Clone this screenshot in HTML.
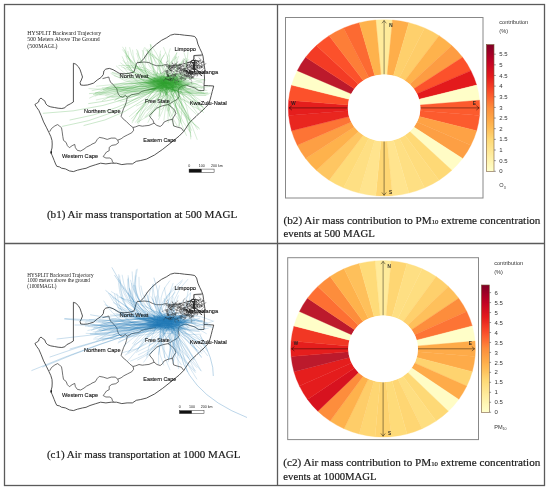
<!DOCTYPE html>
<html><head><meta charset="utf-8"><title>Air mass trajectories</title><style>
html,body{margin:0;padding:0;background:#fff;}
body{width:550px;height:491px;overflow:hidden;}
svg{display:block;}
text{font-family:"Liberation Sans",sans-serif;}
.cap,.cap2,.tt{font-family:"Liberation Serif",serif;fill:#1a1a1a;}
.cap{font-size:11.2px;stroke:#1a1a1a;stroke-width:0.18px;}
.cap2{font-size:10.4px;stroke:#1a1a1a;stroke-width:0.18px;}
.tt{fill:#1a1a1a;}
.pl{font-size:6px;fill:#111;stroke:#111;stroke-width:0.12px;}
.sb{font-size:3.6px;fill:#222;}
.dl{font-size:4.6px;fill:#222;stroke:#222;stroke-width:0.15px;}
.ct{font-size:6px;fill:#333;}
.cl{font-size:5.6px;fill:#333;}
</style></head><body><svg width="550" height="491" viewBox="0 0 550 491"><rect width="550" height="491" fill="#fff"/>
<defs><radialGradient id="coreg"><stop offset="0" stop-color="#2ca02c" stop-opacity="0.7"/><stop offset="0.6" stop-color="#2ca02c" stop-opacity="0.45"/><stop offset="1" stop-color="#2ca02c" stop-opacity="0"/></radialGradient><radialGradient id="coreb"><stop offset="0" stop-color="#1f77b4" stop-opacity="0.7"/><stop offset="0.6" stop-color="#1f77b4" stop-opacity="0.45"/><stop offset="1" stop-color="#1f77b4" stop-opacity="0"/></radialGradient></defs>
<rect x="4.5" y="4.5" width="540" height="481" stroke="#5a5a5a" stroke-width="1.3" fill="none"/>
<path d="M277.5 4.5V485.5M4.5 243.5H544.5" stroke="#5a5a5a" stroke-width="1.3" fill="none"/>
<g transform="translate(0 0)">
<path d="M73.4 63.3 75.8 64.2 78.3 66.6 80.1 69.7 81.3 73.3 82.5 77 81.3 80 80.1 82.5 80.7 85 83.8 85.3 87.4 85 89.9 84.3 93.6 83.1 97.2 80 100.9 77.6 103.3 74.6 103.9 70.9 105.8 69.1 109.4 68.4 113.1 69.7 116.2 71.5 119.2 73.3 124 73.8 129 73.3 133.9 72.1 135.1 68.4 136.3 64.2 137.5 62.3 140 62.5 143.8 58.7 147.6 53 151.5 48.5 156.5 44.1 161.6 40.3 166.7 37.7 170.5 35.2 174.4 34.2 179.5 34.5 184.5 35.2 190.9 35.8 194.7 36.5 196.6 39 197.9 44.1 199.8 48.5 201.7 52.4 203 56.2 203.6 60.6 204.3 65.7 204.9 69.5 204.3 74.6 204.5 78 204 85.5 208.6 85.7 213.7 86 213.2 88 212.2 91.6 211.2 95.6 210.1 99.7 209.1 102.8 207.6 105.3 205.5 107.4 203 110 200 112.5 196 116.5 192.6 119.5 189.3 123 185.9 128.2 183.7 131.5 179 136.2 171 142.7 162.7 149.3 154.5 155 146.4 159.1 140.3 160.6 136.3 161.3 132.4 163.9 127.1 163.9 121.8 164.6 116.5 163.2 111.2 163.2 105.9 163.9 100.6 163.2 95.3 164.8 90 166.5 86 168.3 82.7 168.9 77.4 170.2 73.4 171.6 69.4 170.9 65.4 168.9 61.5 168.2 59.5 166.9 56.8 166.3 55.6 164 54.2 160.5 52.2 155.5 51 153 51.2 151 52 148 52.2 144 52 140.5 50.8 136.5 48.9 132.5 46.3 127.2 43.6 121.9 41 115.3 38.8 110.3 36.7 107.5 34.9 104.5 36.7 103.3 38.6 102 39.2 99.6 41 98 42.8 99.6 44.7 100.8 45.9 103.9 47.7 105.7 50.8 106.9 54.4 107.5 58.1 108.2 61.8 108.5 64.8 107.8 66.7 105.7 70.3 103.9 73.4 102Z" fill="none" stroke="#2a2a2a" stroke-width="0.8" stroke-linejoin="round"/>
<path d="M102.5 78.6 106.4 77.6 108.8 77 109.4 79.4 110.7 82.5 113.1 84.3 114.9 86.8 116.8 88.6 117.4 91.7 118.6 94.7 120.4 96.5 122.9 97.2 125.3 95.3 127.2 97.2 129 96.5 131.4 94.7 135.1 94.1 138.8 93.5 141.2 91.7 145 90.4 150 89.5 156 88.5" fill="none" stroke="#333" stroke-width="0.7" stroke-linejoin="round"/>
<path d="M127.2 97.2 126.5 101.4 125.3 105.1 123.5 108.8 122.3 112.4 121.1 116.3 123.1 118.9 126.4 121.5 129.7 124.9 133 127.5" fill="none" stroke="#333" stroke-width="0.7" stroke-linejoin="round"/>
<path d="M133 127.5 135.7 126.8 139 125.5 142.3 126.2 144.5 125.9 149 125.4 152.9 123.7 154 123.1" fill="none" stroke="#333" stroke-width="0.7" stroke-linejoin="round"/>
<path d="M133 127.5 133.7 130.2 131.7 132.8 127.7 134.8 123.8 136.8 121.1 138.8 117.8 140.1 115.2 138.1 111.2 138.1 107.2 139.4 103.2 138.1 99.3 137.4 97.3 139.4 95.3 142.7 92 144.1 90.6 145.1 86.6 147.1 84 149.1 80.7 151 77.4 150.4 75.4 147.7 74.7 144.4 72.1 145.7 69.4 147.7 67.4 145.7 66.1 142.4 63.5 140.4 62.8 136.5 62.1 131.2 61.5 127.9 59.5 125.9 57.5 124.6 54.9 125.9 51.5 128.5 49.6 131.8" fill="none" stroke="#333" stroke-width="0.7" stroke-linejoin="round"/>
<path d="M117.8 140.1 118.5 142.7 115.8 144.7 111.8 145.4 109.2 147.4 109.2 150.7 106.5 152 104.6 154.6 103.2 156.6 105.9 158 109.9 158 111.8 159.3 112.5 161.9 113.8 163.2" fill="none" stroke="#333" stroke-width="0.7" stroke-linejoin="round"/>
<path d="M149.5 115.8 153.4 111.4 156.8 108 162.4 105.8 168 104.6 171.4 106.9 174.7 110.2 175.8 113.6 173.6 117 172.5 119.2 168 120.3 164.1 122 162.4 124.8 160.2 126.5 156.8 125.4 154 123.1 152.9 120.3 150.1 117 149.5 115.8" fill="none" stroke="#333" stroke-width="0.7" stroke-linejoin="round"/>
<path d="M168 104.6 170.2 103.5 173.6 101.3 177 99.6 179.2 96.8 178.6 93.4 178.1 91.2 179 88 182 86 186 85 190 86.5 195 88 198.4 90.5 204 90.5 204 85.5" fill="none" stroke="#333" stroke-width="0.7" stroke-linejoin="round"/>
<path d="M172.5 119.2 173 122.6 173.6 125.9 177 127 181.4 128.2 183.7 131.5" fill="none" stroke="#333" stroke-width="0.7" stroke-linejoin="round"/>
<path d="M140 62.5 144 62 148.9 62.5 152.7 64.5 156.5 65.7 161.6 65.7 165.5 64.5 170.5 65.7 175.6 65.7 180.7 64.5 185.8 63.2 190.9 61.9 194 59 194.1 55.5 198 55.2 202.4 54.9" fill="none" stroke="#333" stroke-width="0.7" stroke-linejoin="round"/>
</g>
<g fill="none" stroke="#2ca02c" stroke-opacity="0.45" stroke-width="0.4" stroke-linecap="round"><path d="M177.02 87.64Q145.5 88.47 113.97 89.1"/><path d="M158.34 84.45Q136.82 92.55 114.82 85.88"/><path d="M171.83 80.08Q142.95 83.2 113.92 84.04"/><path d="M167.1 80.73Q147.22 99.32 120.14 102.03"/><path d="M176.63 83.64Q149.1 93.41 119.93 91.62"/><path d="M166.5 83.37Q131.03 88.17 95.54 92.76"/><path d="M168.54 85.31Q132.59 94.78 95.44 93.19"/><path d="M181.22 83.82Q145.54 98.74 106.92 96.85"/><path d="M181.86 82.7Q136.35 79.52 92.11 90.65"/><path d="M164.03 75.71Q131.67 84.37 102.35 100.6"/><path d="M164.93 87.02Q141.44 93.88 118 100.92"/><path d="M166.43 82.55Q131.88 93.41 96.25 99.95"/><path d="M172.11 86.57Q142.5 94.75 111.9 97.49"/><path d="M160.26 84.43Q137.75 91.18 114.47 94.42"/><path d="M166.29 83.05Q125.27 77.2 89.48 98.07"/><path d="M162.16 81.23Q125.75 75.77 93.79 94.04"/><path d="M169.12 79.05Q143.14 83.59 117.25 88.64"/><path d="M176.79 81.76Q140.07 84.31 103.61 89.39"/><path d="M168.72 82.91Q139.25 84.14 114.64 100.41"/><path d="M167.24 77.19Q136.92 87.85 105.64 95.23"/><path d="M181.27 85.23Q144.32 86.49 107.38 88"/><path d="M161.45 83.28Q130.1 86.28 99.77 94.77"/><path d="M162.11 80.7Q126.45 93.15 88.95 88.59"/><path d="M156.01 79.78Q133.28 85.21 115.15 99.94"/><path d="M167.55 89.14Q138.61 97.26 110.89 85.66"/><path d="M179.7 83.49Q137.97 81.1 96.49 86.19"/><path d="M166.51 84.01Q131.23 98.01 93.43 94.55"/><path d="M166.42 87.99Q134.96 89.81 103.46 90.44"/><path d="M174.84 83.47Q139.18 95.83 102.31 87.76"/><path d="M174.76 80.75Q133.18 79.34 95.11 96.11"/><path d="M169.32 83.08Q138.02 91.13 110.93 73.5"/><path d="M165.03 78.38Q144.38 63.29 118.89 65.53"/><path d="M170.5 79.31Q140.77 81.8 112.46 72.38"/><path d="M162.52 81.71Q138.74 78.64 120.62 62.94"/><path d="M182 81.69Q147.2 88.54 114.13 75.74"/><path d="M178.72 81.03Q143.09 91.99 116.32 66.04"/><path d="M169.41 82.39Q146.82 80.56 124.39 77.4"/><path d="M174.67 88.67Q150.37 83.12 127.48 73.26"/><path d="M163.35 85.05Q136.71 83.2 112.12 72.79"/><path d="M169.13 84.41Q144.34 77.97 121.32 66.74"/><path d="M161.53 88.77Q138.48 82.62 125.99 62.29"/><path d="M158.31 91.33Q136.36 86.08 123.65 67.43"/><path d="M161.9 77.57Q145.69 67.56 126.64 67.5"/><path d="M164.9 79.6Q147.17 70.34 127.71 65.75"/><path d="M171.68 83.99Q144.3 76.68 136.58 49.41"/><path d="M157.15 79.39Q130 78.52 127.89 51.44"/><path d="M174.41 79.78Q146 88.65 137.27 60.2"/><path d="M164.88 82.53Q135.03 75.28 122.63 47.17"/><path d="M171.12 77.16Q143.4 78.57 127.45 55.84"/><path d="M161.44 85.89Q125.89 82.97 125.58 47.31"/><path d="M174.98 80.39Q143.63 84.15 136.8 53.32"/><path d="M171.03 77.16Q136.03 92.23 122.2 56.73"/><path d="M178.92 87.41Q143.11 80.11 122.64 49.83"/><path d="M164.95 83.76Q135 78.47 124.68 49.86"/><path d="M180.29 87.24Q148.21 86.49 128.05 61.52"/><path d="M166.54 85.35Q135.94 78.35 129.63 47.6"/><path d="M168.99 83.11Q142.3 77.59 137.72 50.73"/><path d="M162.23 83.86Q137.72 80.5 123.01 60.61"/><path d="M171.34 82.71Q142.84 78.8 125.44 55.88"/><path d="M157.7 81.7Q133.77 74.97 132.59 50.15"/><path d="M166.14 85.25Q160.73 63.34 144.77 47.37"/><path d="M158.37 84.49Q153.93 68.54 163.88 55.29"/><path d="M165.82 85.67Q165.62 67.3 152.77 54.17"/><path d="M165.94 85.73Q155.13 69.6 160.5 50.95"/><path d="M168.04 83.65Q153.67 66.77 150.29 44.87"/><path d="M170.5 83.55Q171.91 64.59 163.6 47.49"/><path d="M154.06 83.27Q155.2 65.71 147.24 50.02"/><path d="M183.12 86.64Q170.18 65.04 147.89 53.31"/><path d="M170.67 80.47Q164.74 59.87 145.63 50.17"/><path d="M164 89.52Q138.82 80.46 146.82 54.93"/><path d="M161.9 89.33Q171.35 73.34 169.33 54.89"/><path d="M167.74 78.11Q146.41 71.47 148.06 49.19"/><path d="M165.72 78.36Q162.39 59.66 150.59 44.77"/><path d="M171.16 79.23Q160.65 68.93 160.41 54.22"/><path d="M162.95 84.77Q148.77 66.97 150.77 44.29"/><path d="M160.12 85.08Q137.02 73.23 144.12 48.26"/><path d="M171.83 84.75Q162.4 67.16 170.18 48.77"/><path d="M164.12 81.48Q147.75 69.73 142.25 50.34"/><path d="M163.54 80.23Q154.96 65.88 165.34 52.78"/><path d="M160.01 83.11Q150.19 67.44 149.65 48.95"/><path d="M181.05 79.05Q172.58 68.59 178.4 56.46"/><path d="M175.55 84.67Q187.95 70.46 188.04 51.59"/><path d="M172.49 81.14Q174.03 67.17 185.08 58.49"/><path d="M164.56 78.02Q179.44 73.55 183.51 58.56"/><path d="M176.82 81.97Q171 67.24 176.82 52.51"/><path d="M157.32 80.72Q169.71 71.43 174.83 56.82"/><path d="M163.14 86.14Q160.61 67.38 176.64 57.3"/><path d="M180.63 82.32Q190.91 68.49 184.06 52.68"/><path d="M171.71 82.56Q184.66 73.9 186.41 58.42"/><path d="M165.67 79.69Q173.19 65.03 188.79 59.71"/><path d="M170.42 79.78Q166.59 64.89 176.64 53.25"/><path d="M182.9 78.61Q175.24 68.6 175.91 56.01"/><path d="M172.32 84.81Q189.03 79.72 201.48 91.99"/><path d="M170.78 86.2Q183.83 93.16 198.29 90.04"/><path d="M170.43 81.13Q187.24 80.61 201.99 88.68"/><path d="M163.43 81.75Q183.48 95.38 207.57 92.66"/><path d="M176.67 82.34Q188.94 92.57 204.87 93.69"/><path d="M161.78 81.65Q181.87 89.11 201.98 81.73"/><path d="M176.56 86.59Q189.71 95.57 205.63 95.44"/><path d="M171.74 82.71Q189.88 78.18 205.01 89.16"/><path d="M161.42 82.94Q182.96 74.68 205.4 80.01"/><path d="M162.33 83.85Q180.96 97.68 203.59 92.53"/><path d="M157.9 83.22Q180.6 69.73 203.29 83.26"/><path d="M166.37 87.26Q187.59 95.83 210.34 93.27"/><path d="M175.76 82.71Q192.16 89.61 209.68 86.54"/><path d="M173.96 82.79Q186.18 90.02 200.38 89.92"/><path d="M167.63 83.21Q186.18 78.68 203.45 86.81"/><path d="M173.97 79.75Q188.94 92.18 208.27 94.37"/><path d="M156.43 83.24Q180.28 96.81 206.96 90.38"/><path d="M159.78 85.49Q181.71 98.22 206.87 94.99"/><path d="M174.8 78.5Q191.82 91.89 204.15 109.69"/><path d="M166.99 88Q189.47 91.79 204.74 108.71"/><path d="M172.01 79.81Q186.23 90.41 200.67 100.73"/><path d="M167.76 79.65Q191.07 87.44 199.55 110.51"/><path d="M151.1 82.65Q174.76 99.43 202.9 106.43"/><path d="M164.21 81.66Q184.9 94.01 198.08 114.18"/><path d="M179.76 85.73Q190.38 95.94 201.23 105.89"/><path d="M167.65 81.06Q180.31 101.73 202.53 111.41"/><path d="M166.81 87.36Q186.11 93 198.32 108.98"/><path d="M171.48 76.78Q179.18 96.62 199.3 103.56"/><path d="M164.37 77.06Q178.05 97.68 196.31 114.39"/><path d="M164.98 86.11Q188.4 93.35 203.62 112.57"/><path d="M165.04 81.63Q176.45 109.65 199.62 129.09"/><path d="M166.7 78.67Q183.87 102.43 189.67 131.16"/><path d="M175.18 86.87Q187 110.59 191.06 136.78"/><path d="M165.79 78.01Q179.35 98.58 190.28 120.66"/><path d="M164.79 83.07Q175.64 101.92 188.61 119.38"/><path d="M171.75 81.56Q174.01 109.97 186.49 135.6"/><path d="M177.4 82.01Q190.62 108.95 190.79 138.95"/><path d="M166.9 81.66Q181.03 105.11 191.6 130.38"/><path d="M170.49 85.03Q182.92 107.94 197.48 129.56"/><path d="M170.63 87.93Q175.11 112.84 190.62 132.84"/><path d="M170.15 82.97Q186.71 109.74 197.16 139.44"/><path d="M161.15 85.83Q175.2 111.21 198.86 128"/><path d="M168.22 81.16Q178.89 92.67 179.93 108.33"/><path d="M166.78 82.06Q167.48 96.45 167.11 110.86"/><path d="M176.16 77.12Q162.02 90.28 158.85 109.34"/><path d="M173.4 83.68Q173.32 99.81 160.82 110"/><path d="M160.49 78.98Q163.6 103.93 174.48 126.6"/><path d="M160.4 85.89Q175.49 101.32 181.27 122.12"/><path d="M183.22 85.76Q176.12 100.15 172.17 115.69"/><path d="M160.1 81.56Q161.27 98.69 159.46 115.77"/><path d="M172.51 89.26Q166.79 105.45 168.18 122.57"/><path d="M167.53 77.89Q163.3 97.74 176.05 113.53"/><path d="M177.14 88.83Q186.3 107.48 178.51 126.75"/><path d="M178.77 86.18Q166.75 98.86 169.26 116.15"/><path d="M176.35 83.98Q173.9 97.81 168.64 110.82"/><path d="M164.19 76.61Q170.18 99.22 158.59 119.54"/><path d="M168.92 81.71Q159.83 97.91 158.82 116.45"/><path d="M166.57 84.56Q164.49 107.02 177.07 125.75"/><path d="M165.56 86.18Q167.62 103.36 163.89 120.26"/><path d="M161.52 87.75Q177.78 100.46 180.95 120.85"/><path d="M163.61 80.14Q165.35 105.01 181.71 123.83"/><path d="M165.39 79.22Q177.37 101.28 179.52 126.3"/><path d="M171.71 85.57Q155.73 98.47 136.59 105.95"/><path d="M166.14 82.57Q158.69 101.78 144.82 117.02"/><path d="M166.05 85.85Q148.56 102.39 131.11 118.97"/><path d="M164.08 82.7Q158.24 98.03 147.6 110.51"/><path d="M185.71 86.74Q152.98 93.75 135.43 122.26"/><path d="M180.64 81.89Q158.17 97.24 147.91 122.45"/><path d="M173.66 85.92Q150.5 99.84 138.12 123.85"/><path d="M164.62 77.93Q145.15 98.06 132.12 122.85"/><path d="M161.6 85.06Q160.43 101.87 149.43 114.64"/><path d="M174.36 86.92Q161.61 110.3 137.76 122.14"/><path d="M158.42 85.74Q140.45 95.06 123.4 105.98"/><path d="M167.67 84.51Q148.08 100.07 129.33 116.64"/><path d="M170.4 83.59Q163.54 104.24 145.82 116.86"/><path d="M168.95 82.49Q146.58 97.87 132.31 120.95"/><path d="M164.9 89.59Q145.59 100.31 138.75 121.31"/><path d="M158.63 85.17Q142.31 100.84 137.25 122.89"/><path d="M166.06 77.2Q162.77 95.57 149.95 109.13"/><path d="M167.76 77.51Q153.82 97.14 136.4 113.74"/><path d="M177.25 79.16Q178.2 75.73 176.06 72.88"/><path d="M163.61 83.54Q164.26 85.8 162.37 87.21"/><path d="M172.33 84.86Q180.28 92.66 190.59 88.43"/><path d="M159.21 81.89Q166.59 85 174.47 83.56"/><path d="M175.24 75.8Q172.77 81.86 167.6 85.86"/><path d="M165.34 86.6Q171.57 88.96 176.14 84.1"/><path d="M173.18 86.89Q184.24 91.29 195.74 88.19"/><path d="M163.19 85.39Q176.57 95.65 192.95 91.7"/><path d="M180.82 78.67Q184.98 78.42 188.62 80.44"/><path d="M169.92 80.04Q177.54 78.02 183.97 82.59"/><path d="M164.65 83.43Q164.06 82.16 165.02 81.13"/><path d="M170.56 85.19Q179.83 82.31 189.18 84.97"/><path d="M173.41 82.96Q172.32 85.52 172.66 88.27"/><path d="M156.92 85.25Q164.43 84.68 171.32 87.74"/><path d="M178.93 82.1Q168.03 69.8 152.39 74.85"/><path d="M168.21 83.73Q164.55 80.59 160.15 82.56"/><path d="M158.96 86.04Q175.9 85.77 188.05 73.96"/><path d="M176.84 82.89Q176.27 80.27 173.66 79.63"/><path d="M171.21 82.72Q173.05 82.37 174.54 81.23"/><path d="M172.04 84.7Q167.15 81.44 161.38 82.55"/><path d="M175.71 78.62Q177.17 75.33 180.49 73.92"/><path d="M165.14 80.67Q171.78 84.35 172.38 91.91"/><path d="M170.01 81.8Q170.4 87.58 166.55 91.92"/><path d="M160.79 82.57Q177.37 83.78 190.62 93.83"/><path d="M153.15 83.32Q164.85 83.84 174.15 76.72"/><path d="M163.8 86.15Q154.35 86.41 148.41 93.76"/><path d="M184.46 79.21Q173.41 85.38 160.84 83.89"/><path d="M168.83 76.86Q163.73 76.03 158.97 78.04"/><path d="M164.86 83.89Q161.03 82.7 157.37 84.34"/><path d="M176.37 82.02Q175.58 78.49 177.23 75.27"/><path d="M165.99 87.85Q161.04 83.38 160.82 76.72"/><path d="M161.75 83.54Q171.42 83.84 177.08 75.99"/><path d="M165.02 79.28Q157.92 77.33 150.79 79.17"/><path d="M160.16 78.38Q175.55 74.85 190.79 78.94"/><path d="M166.23 84.47Q158.51 84.37 154.73 77.64"/><path d="M157.42 81.8Q167.23 81.06 175.03 87.06"/><path d="M170.83 86.94Q178.68 77.31 190.45 81.29"/><path d="M173.93 83.34Q173.9 77.91 177.54 73.86"/><path d="M159.44 74.59Q160.49 80.56 164.37 85.23"/><path d="M174.2 83.41Q165.56 76.78 154.69 77.52"/><path d="M167.03 82.08L185.22 86.2"/><path d="M173.57 84.85L172.45 88.78"/><path d="M172.29 83.37L152.87 89.48"/><path d="M164.16 81.01L158.6 75.97"/><path d="M160.98 82.71L174.56 80.76"/><path d="M171.78 78.27L182.07 71.64"/><path d="M173.6 80.41L165.47 73.13"/><path d="M157.84 82.22L143.2 80.78"/><path d="M177.09 80.05L168.22 78.83"/><path d="M163.04 82.88L166.47 89.45"/><path d="M162.18 82.24L159.91 89.6"/><path d="M159.99 83.6L171.65 87.41"/><path d="M162.33 79.38L140.64 76.7"/><path d="M165.96 77.76L179.29 78.86"/><path d="M166.08 81.14L175.31 78.75"/><path d="M172.05 81.32L184.38 73.17"/><path d="M159.43 89.3L171.6 97.49"/><path d="M161.66 85.55L175.31 90.9"/><path d="M166.53 88.15L172.19 80.58"/><path d="M187.71 83.44L204.52 79.47"/><path d="M160.53 86.09L172.47 81.45"/><path d="M169.97 78.35L148.7 83.19"/><path d="M158.84 85.6L174.25 87.89"/><path d="M180.14 84.27L189.25 84.29"/><path d="M171.36 84.23L156.99 83.92"/><path d="M165 92.95L181.31 88.45"/><path d="M172.76 76.87L173.43 86.28"/><path d="M168.66 87.49L161.73 91.19"/><path d="M170.99 75.31L161.96 84.46"/><path d="M161.34 87.22L182.7 86.97"/><path d="M176.03 84.28L166.52 88.29"/><path d="M171.48 79.55L165.5 71.79"/><path d="M165.3 82.86L154.43 73.99"/><path d="M173.39 87.43L159.31 87.91"/><path d="M162.65 73.78L185.9 75.14"/><path d="M156.74 87.44L166.05 95.24"/><path d="M173.86 84.86L192.95 83.29"/><path d="M169.92 79.2L153.51 80.49"/><path d="M169.86 77.45L175.33 83.8"/><path d="M157.95 81.81L178.11 77.53"/><path d="M172.57 85.75L179.42 88.15"/><path d="M172.54 84L174.51 75.64"/><path d="M169.96 80.24L183.79 89.03"/><path d="M176.91 75.47L191.87 76.23"/><path d="M159.29 78.74L174.16 74.85"/><path d="M167.36 83.23L175.63 73.16"/><path d="M177.84 80.16L171.03 84.61"/><path d="M170.93 74.91L181.93 73.71"/><path d="M159.75 80.85L140.23 84.96"/><path d="M179.82 80.79L173.67 72.64"/><path d="M162.35 79.43L162.63 88.64"/><path d="M176.43 86.42L162.92 91.4"/><path d="M162.24 79.9L174.54 79.17"/><path d="M187.88 83.67L182.92 88.85"/><path d="M158.72 85.38L178.93 84.62"/><path d="M163.88 86.94L147.92 89.22"/><path d="M163.79 84.05L151.96 87.96"/><path d="M172.49 89.14L165.52 92.76"/><path d="M153.9 80.24L157.5 72.31"/><path d="M167.14 79.85L175.06 84.1"/><path d="M164.22 85.3L153.54 86.24"/><path d="M172.17 84.95L179.39 93.8"/><path d="M162.83 82.46L142.02 86.71"/><path d="M159.02 80.92L149.95 84.08"/><path d="M165.74 82.01L167.85 78.09"/><path d="M167.82 79.56L160.27 72.41"/><path d="M174.85 86.16L185.97 88.56"/><path d="M163.17 84.94L150.02 75.84"/><path d="M158.49 88.23L161.66 96.83"/><path d="M162.29 86.54L181.23 91.59"/><path d="M170.28 86.78L164.77 95.91"/><path d="M158.76 80.34L159.14 74.91"/><path d="M182.03 85.35L173.2 94.01"/><path d="M178.85 81.67L196.98 87.57"/><path d="M163.98 81.04L168.41 88.05"/><path d="M180.56 88.26L174.76 79.1"/><path d="M154.49 88.29L168.11 94.82"/><path d="M167.98 83.3L176.53 86.78"/><path d="M168.65 79.6L150.06 80.5"/><path d="M166.74 87.96L155.44 78.95"/></g><g fill="none" stroke="#2ca02c" stroke-opacity="0.55" stroke-width="0.45" stroke-linecap="round"><path d="M160 86Q104.33 111.33 43.2 113.3"/><path d="M160 86Q116 117.92 62.3 126.4"/><path d="M160 86Q127.92 117.15 84 125.5"/><path d="M160 86Q124.98 91.91 89.5 93.6"/><path d="M160 86Q125.36 99.08 88.6 103.6"/><path d="M160 86Q133 87 106 88"/><path d="M160 86Q118.4 112 70 120"/></g>
<ellipse cx="167" cy="83.5" rx="23" ry="9.5" fill="url(#coreg)"/>
<g transform="translate(0 0)">
<g fill="none" stroke="#222" stroke-opacity="0.7" stroke-width="0.42"><path d="M175.07 66.41 172.81 67.7 170.78 68.03 172.83 66.89 170.76 66.56"/><path d="M172.74 72.82 174.37 71.31 172.99 71.82"/><path d="M192.54 73.23 190.28 72.12 190.57 70.65 190.16 70.81"/><path d="M181.99 72.96 180.39 73.29 181.08 72.78 181.32 71.03 179.12 69.86"/><path d="M185.05 70.84 184.88 72.54 184.19 71.53 182.59 72.65"/><path d="M168.29 68.8 170.17 69.72 169.11 71.64 167.2 71.31"/><path d="M187.2 66.43 186.81 68.28 184.7 68.51 186.14 69.79"/><path d="M175.52 69.6 175.92 69.43 177.62 71.21 177.49 71.86"/><path d="M167.7 75.22 168.09 75.95 167.82 76.82 169.75 76.2 171.96 75.63"/><path d="M183.11 71.9 184.45 70.42 183.18 69.98"/><path d="M190.4 65.29 189.91 64.4 188.09 64.12 188.34 64.95"/><path d="M193.62 74.92 195.91 73.53 194.29 72.46 192.96 72.39"/><path d="M182.5 68.2 180.72 68.34 181.27 67.62"/><path d="M169.51 77.75 170.29 78.71 170.07 80.19 172.33 80.91 172.63 80.5"/><path d="M177.04 71.7 174.85 69.97 173.39 68.62 172.59 66.83"/><path d="M166.01 66.42 168.25 66.88 166.1 65.71"/><path d="M176.53 74.15 177.05 74.05 175.12 74 177.51 73.92"/><path d="M174.73 66.31 173.95 65.36 175.59 64.01 173.2 65.81 173.35 64.4"/><path d="M181.21 64.43 180.2 65 178.15 66.39 178.25 68.02 177.52 66.91"/><path d="M181.16 72.04 179.78 73.29 182.2 74.7 183.73 75.97 184.93 74.88"/><path d="M180.49 69.69 182.94 70.85 182.8 69.62"/><path d="M182.94 69.51 185.38 71.33 184.71 70.21 183.34 69 181.86 69.49"/><path d="M191.21 77.45 193.25 76.82 193.97 78.16 192.07 77.72"/><path d="M185.92 67.19 185.59 67.73 183.53 69.52"/><path d="M186.21 71.41 188.45 72.31 186.8 70.82 185.05 72.44 186.58 71.02"/><path d="M189.14 79.68 191.33 78.31 191.57 76.39 193.07 77.3 191.08 78.3"/><path d="M169.9 79.78 171.53 78.63 170.29 77.8"/><path d="M172.74 73.38 172.96 74.72 170.76 75.68 172.75 76.33"/><path d="M188.82 72.27 186.98 70.88 187.03 72.37 188.41 72.8 189.79 71.4"/><path d="M169.96 73.91 170.25 73.21 170.34 73.43"/><path d="M187.96 65.7 185.74 64.46 183.45 62.85 183.22 60.97 185.19 59.22"/><path d="M175.12 79.57 175.18 80.34 174.94 80.48 174.83 82.24 175.83 83.75"/><path d="M192.38 68.15 194.34 66.96 194.08 66.63 193.54 65.89 194.4 65.61"/><path d="M171.96 68.84 173.94 67.46 175.02 68.1"/><path d="M170 78.13 168.6 79.94 168.09 79.88 170.54 81.21"/><path d="M170.52 70.9 170.04 70.59 169.32 68.96 168.65 68.31 168.45 69.12"/><path d="M176.76 72.28 176.82 70.54 179.25 71.69 181.61 70.11"/><path d="M173.44 64.63 172.29 63.15 171.9 64.8"/><path d="M188.93 68.14 189.11 68.2 189.09 67.51"/><path d="M173.81 76.79 173.44 75.08 175.63 75.62"/><path d="M188.45 65.34 186.28 66.79 186.05 66.15"/><path d="M181.49 78.83 182.09 77 183.14 78.75 185.49 77.8"/><path d="M171.07 78.92 170.1 79.95 169.05 79.95 167.44 79.34 165.03 78.34"/><path d="M166.43 75.73 168.82 75.79 167.55 75.57 168.34 76.17 169.12 76.36"/><path d="M190.88 79.52 191.82 81.45 191.04 82.78 192.07 83.33"/><path d="M177.33 69.56 179.02 67.62 179.64 69.14"/><path d="M178.06 64.89 179.77 66.37 180.62 65.5 179.33 64.67 179.13 63.3"/><path d="M178.48 68.21 180.85 68.4 179.57 70.26 178.62 69.69"/><path d="M166.03 70.11 164.92 70.73 163.67 71.84 161.62 73.1"/><path d="M170.03 73.39 167.64 72.61 166.3 72.95 166.45 73.95"/><path d="M184.41 75.46 183.86 74.76 186.28 73.36 187.4 73.93 185.12 75.27"/><path d="M190.97 74.04 191.98 74.06 194.03 75.07 194.37 76.32 191.95 77.07"/><path d="M188.34 75.38 189.06 73.72 186.77 74.27 189.06 73.77 188.82 71.98"/><path d="M166.53 72.5 166.47 70.52 167.96 71.51"/><path d="M180.08 72.56 180.21 73.55 180.08 74.78 181.81 73.72 183.1 72.65"/><path d="M184.2 71.37 182.08 73.01 181.02 71.19 181.68 69.99"/><path d="M182.79 69.31 184.01 68.53 184.35 66.58 182.15 65.65 183.01 66.42"/><path d="M184.92 68.65 183.85 68.52 185.18 70.49 185.43 69.74 183.36 69.63"/><path d="M174.11 65.22 176.45 65.02 175.29 63.86 177.52 62.7 177.93 61.27"/><path d="M180.67 79.24 181.19 79.77 180.09 78.22"/><path d="M176.23 71.97 175.7 70.6 177.95 71.33 177.47 72.24"/><path d="M177.65 70.02 179.35 68.02 180.61 69.38"/><path d="M169.36 78.82 166.92 79.78 165.69 78.04 165.14 79.52 163.02 81.22"/><path d="M187.16 77.67 185.17 79.01 184.1 80.75 182.84 79.81"/><path d="M180.31 67.04 181.73 66.75 179.38 67.8 178.88 69.3"/><path d="M181.52 67.25 179.26 68.18 179.02 69.2"/><path d="M184.05 68.58 186.11 68.78 184.46 68.44"/><path d="M173.89 68.09 176.27 67.13 177.05 66.34 177.34 65.91 175.67 64.56"/><path d="M171.82 78.5 172.07 78.31 171.24 79.34 170.87 79.54"/><path d="M172.83 66.8 170.79 65.75 169.58 66.03 171.52 67.03 171.08 66.68"/><path d="M180.68 70.03 181.94 70.02 182.31 69.46 183.24 69.58"/><path d="M188.13 77.58 186.98 76.57 186.48 76.36"/><path d="M192.71 77.58 190.85 77.28 192.17 78.5"/><path d="M193.11 71.84 192.57 73.54 194.2 74.97"/><path d="M193.22 67.98 191.84 66.58 194.2 65.02"/><path d="M189.11 75.22 187.04 76.32 184.54 74.83 184.89 72.98"/><path d="M186.02 79.4 184.78 79.94 185.77 78.39 183.62 78.49 184.04 78.04"/><path d="M172.26 73.62 172.45 75.6 171.34 74.87"/><path d="M189.5 67.88 188.18 66.87 190.48 67.68 189.52 65.77 189.51 66.47"/><path d="M177.76 68.12 177.38 67.6 177.35 68.38 178.44 67.83 177.92 65.86"/><path d="M174.18 77.52 172.71 79.4 171.76 80.68"/><path d="M172.46 67.54 170.51 68.04 171.06 69.62 170.98 71.26"/><path d="M167.58 73.52 165.35 71.61 165.83 71.27 166.88 70.01"/><path d="M178.59 75.39 179.75 77.38 181.91 76.7 180.34 78.44"/><path d="M186.9 64.51 188.02 65.87 190.45 65.64 188.49 63.95 186.4 63.63"/><path d="M190.78 72.98 190.19 74.05 189.23 75.27"/><path d="M168.46 75.28 167.82 76.96 166.29 76.42"/><path d="M191.12 64.48 189.86 64.99 189.38 64.49 189.2 65.7"/><path d="M167.74 67.12 169.73 66.48 168.59 68.31"/><path d="M183.28 68.19 184.22 69.89 183.21 70.78 183.69 72 185.92 70.26"/><path d="M189.13 65.72 191.41 67.53 190.84 66.54 190.49 66.51 192.64 65.24"/><path d="M188.47 75.82 189.84 76.24 188.97 75.52 188.28 76.65 186.18 75.44"/><path d="M187.08 67.96 187.83 67.88 188.05 66.53"/><path d="M177.94 65.68 176.77 64.02 174.75 64.01"/><path d="M185.87 71.15 184.04 71 185.99 69.93"/><path d="M181.08 76.38 182.48 75.56 181.38 74.63"/><path d="M173.11 68.17 171.85 67.15 170.12 68.68 170.51 67.99"/><path d="M177.09 79.88 177.22 80.48 175.22 80.33 172.91 78.35 174.82 77.28"/><path d="M178.55 69.98 177.22 68.18 177.72 69.5 176.19 67.8"/><path d="M180.35 66.84 179.15 67.96 181.38 66.38 181.86 66.86 180.45 66.33"/><path d="M169.96 67.26 167.65 68.19 169.72 69.45 171.31 69.09"/><path d="M176.41 73.94 174.93 75.12 175.17 73.37"/><path d="M168.84 70.32 167.11 70.46 167.88 70.05 166.73 72 167.57 71.68"/><path d="M167.44 75.93 167.01 74 168.34 75.21 169.06 74.77"/><path d="M177.34 79.07 179.35 78.77 180.95 78.39 182.86 78.24"/><path d="M170.55 64.24 168.76 65.46 168.25 65.75 170.38 66.7 168.74 66.1"/><path d="M170.53 66.75 168.57 66.71 170.1 68.58"/><path d="M171.53 66.03 173.9 65.96 171.67 67.66"/><path d="M176.86 78.47 177.8 80.03 178.5 81.46 179.11 81.92 177.59 81.81"/><path d="M181.83 64.67 180.11 64.1 178.36 65.99 179.94 64.76 181.86 66.13"/><path d="M184.82 74.69 182.91 75.08 183.16 75.59 182.19 75.27"/><path d="M182.31 70.81 181.65 70.83 180.04 68.84 182.48 68.7 182.21 69.18"/><path d="M188.93 77.38 188.43 75.65 187.73 75.11 189.24 75.13"/><path d="M184.4 64.65 182.31 65.58 183.7 65.63"/><path d="M167.52 72.06 168.28 73.2 165.91 71.47 166.48 72.24"/><path d="M169.07 66.11 168.01 67.35 169.48 68.09 170.59 66.98"/><path d="M189.33 73.77 187.62 75.35 186.49 76.62 184.71 76.62"/><path d="M191.76 67.33 192.34 66.28 191.7 65.08 191.22 65.62"/><path d="M173.79 69.25 172.13 70.38 170.21 70.51 170.89 69.95"/><path d="M190.44 72.88 191.39 74.47 190.15 74.61 191.93 75.56 191.29 75.06"/><path d="M176.33 66.34 177.65 66.11 176.04 67.08 173.78 68.36"/><path d="M173.1 74.23 175.24 75.81 176.41 76.8 175.02 75.96 175.65 75.63"/><path d="M176.19 64.76 174.83 65.38 172.44 63.39 171.72 61.81"/><path d="M176 67.59 175.01 66.12 174.34 67.44 172.63 65.49 174.14 66.32"/><path d="M178.62 65.02 180.48 66.15 179.99 65.2"/><path d="M166.32 74.32 168.29 74.7 168.68 75.11 168.77 75.08 167.09 73.08"/><path d="M167.72 64.4 166.41 62.64 167.81 60.69"/><path d="M181.43 79.05 180.99 79.13 181.71 79.72"/><path d="M177.63 73.81 176.67 73.01 174.42 74.57 175.83 75.43 173.36 76.81"/><path d="M186.87 71.44 187.64 70.15 190.13 69.19 190.85 67.68 192.8 69.39"/><path d="M192.4 68.21 191.23 68.43 190.91 69.58"/><path d="M180.65 68.24 182.79 69.82 180.72 69.85 179.07 71.47 180.78 70.28"/><path d="M170.46 78.64 172.36 77.95 171.05 79.58"/><path d="M183.66 75.09 185.37 75.23 185.23 75.35 182.76 73.46 185.04 72.39"/><path d="M190.77 76.63 191.39 74.94 193.44 73.52 191.07 71.94"/><path d="M192.01 69.52 193.01 67.64 191.21 68.22"/><path d="M167.19 65.09 165.02 65.45 164.34 66.72"/><path d="M188.95 78.26 190.85 79.28 191.9 78.82"/><path d="M172.9 67.25 170.58 68.64 172.14 69.18"/><path d="M189.1 74.1 188.99 72.64 190.45 73.22 189.42 72.57"/><path d="M173.31 69.61 171.05 70.65 173.11 71.73 173.62 71.64"/><path d="M174.05 75.93 171.71 76 169.7 75.88 167.44 76.15"/><path d="M186 77.25 187.6 75.93 185.11 74.73 186.42 76.65 183.94 76.61"/><path d="M179.76 76.75 182.1 77.12 184.38 77.18"/><path d="M182.18 66.54 184.38 65.47 182.7 67.22"/><path d="M187.47 71.84 187.78 70.26 186.91 68.64 189.05 70.21 190.28 69.9"/><path d="M184.08 69.95 182.9 71.56 182.91 71.07 184.83 70.01"/><path d="M178.91 72.5 180.17 73.09 179.41 72.4 177.69 73.77 178.5 74.74"/><path d="M170.75 71.02 171.14 69.52 170.95 71.07 169.64 69.83"/><path d="M174.44 75.25 172.72 73.87 171.45 73.18 171.56 71.82 170.7 70.58"/></g>
<g fill="none" stroke="#222" stroke-opacity="0.8" stroke-width="0.45"><path d="M194.33 66.35 192.76 67.05 191.96 66.91"/><path d="M196.88 65.68 197.89 66.59 196.23 68.38 198.49 68.07 196.83 66.27"/><path d="M188.38 74.82 186.2 75.57 187.65 77.12 189.74 75.94 188.36 77.11"/><path d="M202.01 73.13 201.5 72.5 199.21 73.34"/><path d="M186.09 66.99 187.82 65.55 186.51 66.49 188.26 68.35"/><path d="M186.07 72.99 188.05 71.81 185.59 70.14"/><path d="M195.72 60.3 196.08 60.45 194.57 58.72"/><path d="M189.46 73 189.86 71.69 190.4 73.53 188.17 73.75 188.71 72.34"/><path d="M190.83 76.91 188.94 77.73 191.19 76.68"/><path d="M197 60.73 198.73 60.82 199.05 61.57 200.89 60.01"/><path d="M201.87 66.21 201.38 68.16 201.75 66.23"/><path d="M200.39 65.59 198.45 64.47 197.3 65.73 196.33 64.87"/><path d="M195.32 60.94 196.72 62.17 196.71 63.01 195.45 63.96"/><path d="M193.65 63.93 193.7 65.75 194 64.31 192.95 65.08"/><path d="M201.76 60.5 200.57 59.16 198.68 57.75"/><path d="M186.88 67.66 185.85 65.72 187.34 64.86 187.25 63.97"/><path d="M203.31 72.71 204.29 70.97 204.05 71.79 205.37 71.32"/><path d="M201.97 62.87 200.84 63.26 201.38 62.66 203.5 61.77 201.64 62.96"/><path d="M200.77 62.76 202.56 61.57 202.43 61.94"/><path d="M195.82 61.41 195.73 63.2 195.91 64.97 193.55 66.94 195.5 67.12"/><path d="M195.42 69.13 197.31 69.43 199.59 67.68"/><path d="M190.04 62.34 191.03 62.15 190.99 62.7"/><path d="M186.95 70.25 185.67 70.08 185.03 71.93 185.39 71.92"/><path d="M190.38 70.58 190.94 71.29 190.48 69.57"/><path d="M189.4 70.34 187.33 68.46 187.95 68.65"/><path d="M194.54 71.96 193.71 73.09 191.26 74.91"/><path d="M196.62 76.6 198.29 75.02 197.53 73.95 198.93 72.72"/><path d="M189.98 61.88 187.85 62.46 185.77 60.88"/><path d="M186.42 70.65 185.77 71.19 184.45 70.22"/><path d="M195.32 63.36 194.09 63.8 196.39 63.88 195.98 65.47"/><path d="M194.56 65.36 195.26 66.08 193.42 64.24"/><path d="M189.36 66.01 191.51 67.51 193.61 69.38 191.59 68.66"/><path d="M190.45 70.27 190.77 71.79 192.73 71.51 190.62 70.72"/><path d="M194.4 75.72 194.1 74.46 193.61 73.76 191.96 73.94"/><path d="M189.39 72.1 191.38 73.87 189.31 75.77 191.62 76.17 193.82 76.85"/><path d="M192.93 71.85 190.81 72.53 190.42 71.44 191.55 72.49"/><path d="M200.39 68.54 201.47 67.68 201.64 65.96 199.19 67.65"/><path d="M186.76 62.53 187.72 62.57 189.17 62.19"/><path d="M201.12 66.62 201.15 65.16 202.1 64.6 200.95 63.88 200.37 62.61"/><path d="M197.03 74.76 195.38 73.99 197.32 73.1 197.43 74.12 197.07 76.03"/><path d="M187.69 64.84 187.44 65.56 186.1 64.89 187.35 64.28 187.85 64.46"/><path d="M202.72 60.45 202.91 62.25 204.22 62.06"/><path d="M192.13 72.71 194.14 71.58 192.66 72.32"/><path d="M193.62 74.39 195.8 75.26 195.78 73.5"/><path d="M200.55 66.78 200.23 67.68 198.69 66.08 197.02 66.43"/><path d="M202.04 64.42 203.37 66.3 201.81 66.42"/><path d="M202.79 69.18 201.41 71.17 199.05 72.03 199.48 73.92 200.27 73.27"/><path d="M198.73 65.61 196.41 65.24 197.81 65.05 200.13 63.22"/><path d="M189.12 62.45 190.17 62.99 191.65 64.69 191.05 65.72 192.98 65.73"/><path d="M200.96 60.56 199.16 60.23 200.4 61.57 201.23 62.04"/><path d="M195.22 68.47 193.99 68.92 196.24 68.31 193.81 67.1"/><path d="M187.06 68.99 189.21 67.4 191.02 66.19 192.12 65.21"/><path d="M191.32 60.2 192 61.94 191.35 62.5 190.46 64.16 190.73 62.27"/><path d="M199.35 63.57 197.91 62.6 199.82 62.36"/><path d="M192.35 73.13 190.32 72.77 189.95 71.47"/><path d="M190.36 62.64 192.09 62.1 192.9 63.69 192.15 63.75 194.12 61.88"/><path d="M203.53 65.32 202.49 65.07 204.88 64.76 206.18 62.99"/><path d="M192.46 72.37 191.07 71.41 190.83 69.67 193.1 69.3 195.37 68.04"/><path d="M197.67 73.58 196.78 73.56 195.82 71.87 194.62 70.65 195.04 72.57"/><path d="M194.48 70.34 193.44 68.37 191.53 68.68"/></g>
<g fill="none" stroke="#333" stroke-width="0.5"><path d="M193.7 60.7V55.7H201.5"/><path d="M194.5 65.4L199.7 65.4L204.3 68.7M199.7 65.4V69.5"/></g><g fill="none" stroke="#1e1e1e" stroke-width="0.95" stroke-linejoin="round" stroke-linecap="round"><path d="M190.6 61.6L192.8 60.3L195.8 60.6L198.6 61.4"/><path d="M192.2 62.6L195.4 62.1L197.2 63.3"/><path d="M194.6 61.2V71.8"/><path d="M193.3 63.2L193.7 69.8"/><path d="M195.2 69.2L197.8 70.8L200.4 72.3L202.6 73.6"/><path d="M198.8 72.6L200.2 74.6L201.8 75.6"/><path d="M196 66.5L197.6 67.8"/></g>
<ellipse cx="51.2" cy="152.4" rx="0.7" ry="1.3" fill="#111"/>
<text x="174.4" y="51.4" class="pl" textLength="21.6" lengthAdjust="spacingAndGlyphs">Limpopo</text>
<text x="185.7" y="73.9" class="pl" textLength="32.4" lengthAdjust="spacingAndGlyphs">Mpumalanga</text>
<text x="119.6" y="78" class="pl" textLength="28.8" lengthAdjust="spacingAndGlyphs">North West</text>
<text x="145" y="103.2" class="pl" textLength="24.6" lengthAdjust="spacingAndGlyphs">Free State</text>
<text x="189.7" y="104.8" class="pl" textLength="37.2" lengthAdjust="spacingAndGlyphs">KwaZulu-Natal</text>
<text x="84.1" y="112.6" class="pl" textLength="36.4" lengthAdjust="spacingAndGlyphs">Northern Cape</text>
<text x="143.3" y="141.8" class="pl" textLength="33.1" lengthAdjust="spacingAndGlyphs">Eastern Cape</text>
<text x="62.1" y="158.3" class="pl" textLength="36" lengthAdjust="spacingAndGlyphs">Western Cape</text>
</g>
<text x="27.3" y="35" class="tt" style="font-size:6.6px" textLength="73.8" lengthAdjust="spacingAndGlyphs">HYSPLIT Backward Trajectory</text>
<text x="27.3" y="41.3" class="tt" style="font-size:6.6px" textLength="72.4" lengthAdjust="spacingAndGlyphs">500 Meters Above The Ground</text>
<text x="27.3" y="47.6" class="tt" style="font-size:6.6px" textLength="30.2" lengthAdjust="spacingAndGlyphs">(500MAGL)</text>
<rect x="189.1" y="169.1" width="25" height="3.2" fill="#fff" stroke="#333" stroke-width="0.5"/>
<rect x="189.1" y="169.1" width="12.5" height="3.2" fill="#111"/>
<text x="188.3" y="166.9" class="sb">0</text>
<text x="198.8" y="166.9" class="sb">100</text>
<text x="210.9" y="166.9" class="sb">200 km</text>
<g transform="translate(0 239)">
<path d="M73.4 63.3 75.8 64.2 78.3 66.6 80.1 69.7 81.3 73.3 82.5 77 81.3 80 80.1 82.5 80.7 85 83.8 85.3 87.4 85 89.9 84.3 93.6 83.1 97.2 80 100.9 77.6 103.3 74.6 103.9 70.9 105.8 69.1 109.4 68.4 113.1 69.7 116.2 71.5 119.2 73.3 124 73.8 129 73.3 133.9 72.1 135.1 68.4 136.3 64.2 137.5 62.3 140 62.5 143.8 58.7 147.6 53 151.5 48.5 156.5 44.1 161.6 40.3 166.7 37.7 170.5 35.2 174.4 34.2 179.5 34.5 184.5 35.2 190.9 35.8 194.7 36.5 196.6 39 197.9 44.1 199.8 48.5 201.7 52.4 203 56.2 203.6 60.6 204.3 65.7 204.9 69.5 204.3 74.6 204.5 78 204 85.5 208.6 85.7 213.7 86 213.2 88 212.2 91.6 211.2 95.6 210.1 99.7 209.1 102.8 207.6 105.3 205.5 107.4 203 110 200 112.5 196 116.5 192.6 119.5 189.3 123 185.9 128.2 183.7 131.5 179 136.2 171 142.7 162.7 149.3 154.5 155 146.4 159.1 140.3 160.6 136.3 161.3 132.4 163.9 127.1 163.9 121.8 164.6 116.5 163.2 111.2 163.2 105.9 163.9 100.6 163.2 95.3 164.8 90 166.5 86 168.3 82.7 168.9 77.4 170.2 73.4 171.6 69.4 170.9 65.4 168.9 61.5 168.2 59.5 166.9 56.8 166.3 55.6 164 54.2 160.5 52.2 155.5 51 153 51.2 151 52 148 52.2 144 52 140.5 50.8 136.5 48.9 132.5 46.3 127.2 43.6 121.9 41 115.3 38.8 110.3 36.7 107.5 34.9 104.5 36.7 103.3 38.6 102 39.2 99.6 41 98 42.8 99.6 44.7 100.8 45.9 103.9 47.7 105.7 50.8 106.9 54.4 107.5 58.1 108.2 61.8 108.5 64.8 107.8 66.7 105.7 70.3 103.9 73.4 102Z" fill="none" stroke="#2a2a2a" stroke-width="0.8" stroke-linejoin="round"/>
<path d="M102.5 78.6 106.4 77.6 108.8 77 109.4 79.4 110.7 82.5 113.1 84.3 114.9 86.8 116.8 88.6 117.4 91.7 118.6 94.7 120.4 96.5 122.9 97.2 125.3 95.3 127.2 97.2 129 96.5 131.4 94.7 135.1 94.1 138.8 93.5 141.2 91.7 145 90.4 150 89.5 156 88.5" fill="none" stroke="#333" stroke-width="0.7" stroke-linejoin="round"/>
<path d="M127.2 97.2 126.5 101.4 125.3 105.1 123.5 108.8 122.3 112.4 121.1 116.3 123.1 118.9 126.4 121.5 129.7 124.9 133 127.5" fill="none" stroke="#333" stroke-width="0.7" stroke-linejoin="round"/>
<path d="M133 127.5 135.7 126.8 139 125.5 142.3 126.2 144.5 125.9 149 125.4 152.9 123.7 154 123.1" fill="none" stroke="#333" stroke-width="0.7" stroke-linejoin="round"/>
<path d="M133 127.5 133.7 130.2 131.7 132.8 127.7 134.8 123.8 136.8 121.1 138.8 117.8 140.1 115.2 138.1 111.2 138.1 107.2 139.4 103.2 138.1 99.3 137.4 97.3 139.4 95.3 142.7 92 144.1 90.6 145.1 86.6 147.1 84 149.1 80.7 151 77.4 150.4 75.4 147.7 74.7 144.4 72.1 145.7 69.4 147.7 67.4 145.7 66.1 142.4 63.5 140.4 62.8 136.5 62.1 131.2 61.5 127.9 59.5 125.9 57.5 124.6 54.9 125.9 51.5 128.5 49.6 131.8" fill="none" stroke="#333" stroke-width="0.7" stroke-linejoin="round"/>
<path d="M117.8 140.1 118.5 142.7 115.8 144.7 111.8 145.4 109.2 147.4 109.2 150.7 106.5 152 104.6 154.6 103.2 156.6 105.9 158 109.9 158 111.8 159.3 112.5 161.9 113.8 163.2" fill="none" stroke="#333" stroke-width="0.7" stroke-linejoin="round"/>
<path d="M149.5 115.8 153.4 111.4 156.8 108 162.4 105.8 168 104.6 171.4 106.9 174.7 110.2 175.8 113.6 173.6 117 172.5 119.2 168 120.3 164.1 122 162.4 124.8 160.2 126.5 156.8 125.4 154 123.1 152.9 120.3 150.1 117 149.5 115.8" fill="none" stroke="#333" stroke-width="0.7" stroke-linejoin="round"/>
<path d="M168 104.6 170.2 103.5 173.6 101.3 177 99.6 179.2 96.8 178.6 93.4 178.1 91.2 179 88 182 86 186 85 190 86.5 195 88 198.4 90.5 204 90.5 204 85.5" fill="none" stroke="#333" stroke-width="0.7" stroke-linejoin="round"/>
<path d="M172.5 119.2 173 122.6 173.6 125.9 177 127 181.4 128.2 183.7 131.5" fill="none" stroke="#333" stroke-width="0.7" stroke-linejoin="round"/>
<path d="M140 62.5 144 62 148.9 62.5 152.7 64.5 156.5 65.7 161.6 65.7 165.5 64.5 170.5 65.7 175.6 65.7 180.7 64.5 185.8 63.2 190.9 61.9 194 59 194.1 55.5 198 55.2 202.4 54.9" fill="none" stroke="#333" stroke-width="0.7" stroke-linejoin="round"/>
</g>
<g fill="none" stroke="#1f77b4" stroke-opacity="0.45" stroke-width="0.4" stroke-linecap="round"><path d="M184.37 319.88Q135.08 308.5 86.04 320.87"/><path d="M167.08 317.26Q130.51 322.03 95.09 332.33"/><path d="M164.41 321.08Q131.43 319.16 99.5 327.66"/><path d="M185.09 321.75Q144.93 332.07 103.59 328.79"/><path d="M169.61 322.17Q135.34 327.06 100.74 326.01"/><path d="M174.65 319.54Q140.21 333.95 104.18 324.19"/><path d="M166.27 323.55Q133.23 328.24 102.37 340.97"/><path d="M174.15 328.16Q142.39 322.66 112.68 335.16"/><path d="M169 316.37Q128.84 316.46 96.74 340.58"/><path d="M174.21 326.55Q141.95 327.14 109.75 329.15"/><path d="M152.11 322.46Q127.85 332.51 102.03 337.29"/><path d="M179.13 317.39Q137.73 312.56 100.6 331.49"/><path d="M166.67 318.35Q128.77 316.88 91.99 326.14"/><path d="M175.69 328.04Q135.43 339.17 93.65 339.05"/><path d="M178.57 320.67Q139.83 321.37 102.15 330.39"/><path d="M162.85 320.55Q125.65 314.25 91.48 330.26"/><path d="M166.02 321.11Q137.74 320.34 113.53 334.97"/><path d="M172.16 326.93Q129.66 337.18 86.12 333.36"/><path d="M170.09 328.46Q128.7 318.99 87.83 330.49"/><path d="M168.16 324.2Q141.61 322.15 115.7 328.3"/><path d="M174.51 322.6Q134.03 340.86 90.19 333.8"/><path d="M169.52 321.8Q139.69 325.84 110.26 319.47"/><path d="M169.59 320.28Q130.67 330.5 90.61 334.21"/><path d="M188.47 324.6Q138.69 327.75 89.45 319.8"/><path d="M159.36 318.51Q125.05 334.51 88.07 326.42"/><path d="M156.69 323.73Q132.27 327.05 110.64 338.84"/><path d="M175.1 318.19Q137.73 316.79 101.02 323.96"/><path d="M166.69 323.36Q135.4 339.73 100.12 338.24"/><path d="M161.98 320.37Q131.96 311.43 102.53 322.16"/><path d="M167.45 326.36Q133.43 321.45 99.11 319.4"/><path d="M169.52 322.85Q127.32 334.96 85.21 322.55"/><path d="M162.49 319.14Q137.31 321.67 119.4 339.55"/><path d="M168.83 325.45Q130.64 325.34 93.03 332.01"/><path d="M171.41 317.22Q132.22 322.02 93.24 328.31"/><path d="M169.88 322.03Q134.34 316 98.71 321.45"/><path d="M168.18 323.46Q129.43 331.68 90.54 324.09"/><path d="M160.24 321.54Q128.9 334.07 95.15 333.12"/><path d="M182.97 317.45Q146.56 322.69 110.24 328.54"/><path d="M166.02 321.49Q133.57 333.71 99.05 330.55"/><path d="M178.48 325.2Q137.04 315.48 97.18 330.42"/><path d="M163.55 320.31Q142.67 331.39 119.41 327.19"/><path d="M166.72 320.64Q129.82 324.61 95.01 337.49"/><path d="M175.63 322.35Q137.98 334.09 98.78 329.69"/><path d="M165.67 321.34Q129.04 313.08 94.24 327.2"/><path d="M178.41 324.48Q139.26 323.68 105 304.72"/><path d="M156.6 323.23Q126.25 319.93 110.27 293.92"/><path d="M179.93 325.02Q148.43 318.79 116.67 314.03"/><path d="M178.15 322.72Q148.09 319.94 120.21 308.36"/><path d="M163.16 324.76Q140.24 313.78 120.77 297.45"/><path d="M150.76 323.12Q136.58 315.97 120.91 313.37"/><path d="M166.53 324.22Q136.71 316.51 112.71 297.23"/><path d="M161.25 315.53Q136.98 324.9 115.23 310.63"/><path d="M152.89 330.78Q120.31 329.14 103.81 301"/><path d="M180.75 325.5Q148.64 329.36 125.7 306.55"/><path d="M166.54 324.23Q140.26 320.82 117.44 307.35"/><path d="M164.63 321.77Q139.66 315.75 114.06 313.8"/><path d="M174.95 324.19Q149.55 304.9 118.6 297.17"/><path d="M157.42 323.21Q134.4 316.6 110.51 314.88"/><path d="M164.49 321.2Q137.03 308.16 111.47 291.71"/><path d="M171.25 320.64Q140.13 318.44 113.26 302.58"/><path d="M163.96 314.71Q136.46 307.93 130.57 280.23"/><path d="M162.37 326.63Q132.25 319.19 129.07 288.33"/><path d="M169.53 326.4Q132.66 321.02 120.89 285.68"/><path d="M167.29 321.63Q133.25 319.42 122.87 286.92"/><path d="M160.43 317.23Q125.09 325.8 108.55 293.41"/><path d="M156.08 317.69Q128.74 300.96 136.31 269.81"/><path d="M168.5 319.88Q128.9 323.03 131.82 283.41"/><path d="M169.27 320.36Q125.32 323.15 127.59 279.16"/><path d="M160.81 320.55Q121.15 336.2 114.56 294.07"/><path d="M176.07 322.07Q141.29 319.68 134.79 285.44"/><path d="M157.55 322.45Q115.4 316.87 118.72 274.47"/><path d="M170.81 322.22Q131.96 312.03 132.13 271.86"/><path d="M169.53 318.82Q139.22 317.81 129.6 289.05"/><path d="M170.76 323.43Q121.74 329.36 120.21 280.01"/><path d="M176.92 322.27Q137.15 317.3 138.94 277.26"/><path d="M162.41 324.33Q128.54 311.21 135.86 275.64"/><path d="M159.34 322.4Q129.05 303.75 137.27 269.15"/><path d="M164.63 326.35Q128.01 321.79 133.47 285.3"/><path d="M169.67 320.81Q129.07 318.61 128.27 277.95"/><path d="M175.42 317.39Q128.03 323.39 128.12 275.63"/><path d="M163.09 322.61Q122.4 336.44 116.88 293.82"/><path d="M170.86 319.16Q118.32 329.42 119.67 275.91"/><path d="M163.93 322.51Q127.09 312.92 122.14 275.18"/><path d="M174.67 320.37Q136.92 331.45 128.47 293.03"/><path d="M172.18 323.38Q149.66 315.99 146.07 292.57"/><path d="M160.29 326.48Q149.54 312.6 147.46 295.17"/><path d="M157.44 325.5Q159.17 309.92 150.95 296.57"/><path d="M157.29 321.92Q158.72 305.51 170.36 293.85"/><path d="M179.17 316.51Q165.18 312.98 164.11 298.58"/><path d="M160.51 318.68Q142.26 306.61 151.76 286.9"/><path d="M174.31 321.21Q154.34 317.22 155.25 296.87"/><path d="M171.54 321.59Q144.96 313.5 140.9 286.02"/><path d="M180.61 318.72Q166.38 306.43 164.37 287.73"/><path d="M169.1 328.04Q154.92 308.62 152.48 284.69"/><path d="M171.57 324.26Q150.76 303.47 169.64 280.9"/><path d="M169.51 324.33Q148.28 309.42 153.45 284"/><path d="M168.11 324.37Q151.94 307.69 159.54 285.73"/><path d="M168.28 320.87Q149.72 314.85 144.61 296.02"/><path d="M168.67 320.32Q154.64 312.06 156.74 295.91"/><path d="M169.1 317.64Q155.35 313.15 152.63 298.95"/><path d="M158.4 322.73Q173.45 312.99 178.34 295.75"/><path d="M160.59 319.91Q181.19 316.77 191.7 298.78"/><path d="M161.08 322.93Q159.99 295.55 182.5 279.92"/><path d="M171.67 321.95Q189.74 312.82 190.75 292.59"/><path d="M173.29 323.28Q168.46 297.18 187.96 279.18"/><path d="M165.45 323.59Q161.28 305.28 174.94 292.4"/><path d="M177.97 321.17Q171.11 309.98 173 296.97"/><path d="M159.11 322.48Q156.65 300.94 174.77 289.04"/><path d="M172.88 328.81Q185.67 311.11 188.44 289.46"/><path d="M170.73 320.76Q165.78 298.21 181.84 281.64"/><path d="M171.75 323.39Q164.21 303.08 173.06 283.3"/><path d="M158.07 317.59Q177.1 309.47 190.08 293.35"/><path d="M171.62 321.05Q183.56 331.89 199.69 331.72"/><path d="M169.68 325.02Q186.18 319.48 202.76 324.76"/><path d="M157.96 325.42Q184.71 319.04 210.98 327.12"/><path d="M165.44 327.32Q190.37 330.11 213.79 321.12"/><path d="M164.77 317.55Q183.31 316.21 198.49 326.93"/><path d="M171.16 325.96Q189.41 332.51 208.32 328.26"/><path d="M165.67 318.53Q179.82 331.13 198.76 330.9"/><path d="M172.84 318.29Q186.25 313.35 198.61 320.53"/><path d="M162.23 318.98Q177.24 337.7 200.98 334.2"/><path d="M174.3 319.89Q188.32 325.84 202.67 320.76"/><path d="M166.29 319.54Q190.69 315.44 212.44 327.24"/><path d="M158.36 324.59Q182.79 316.09 205.29 328.87"/><path d="M166.35 319.56Q189.75 310.04 212.57 320.86"/><path d="M161.21 321.24Q186.03 319.33 206.41 333.63"/><path d="M169.5 317.13Q191.21 315.04 210.58 325.06"/><path d="M163.51 324.99Q182.18 317.53 202.07 320.44"/><path d="M170.8 325.37Q188.43 316.78 207.17 322.57"/><path d="M157.03 318.11Q177.15 332.68 201.56 328.08"/><path d="M175.94 318.79Q183.79 334.76 199.69 342.73"/><path d="M167.66 322.49Q188.93 328.9 206.45 342.56"/><path d="M165.74 324.23Q185.84 333.54 204.69 345.17"/><path d="M156.41 324.94Q180.82 329.86 196.22 349.44"/><path d="M173.6 325.55Q186.41 334.04 200.51 340.17"/><path d="M176.65 319.64Q182.28 341.79 201.95 353.41"/><path d="M171.43 324.2Q194.18 334.56 207.58 355.67"/><path d="M163.91 315.76Q183.07 334.17 203.1 351.64"/><path d="M168.47 324.2Q187.45 332.48 196.74 350.98"/><path d="M162.96 319.8Q184.08 336.06 201.23 356.47"/><path d="M161.24 322.49Q179.58 333.37 198.58 343.03"/><path d="M169.25 320.73Q195.09 327.44 207.35 351.14"/><path d="M166.11 318.87Q180.05 339.14 194.23 359.22"/><path d="M155.87 321.3Q171.98 349.68 195.29 372.51"/><path d="M168.28 322.7Q184.96 338.55 193.66 359.85"/><path d="M164.21 325.58Q173.97 352.6 195.85 371.22"/><path d="M175.17 324.45Q182.16 347.86 187.39 371.74"/><path d="M171.84 324.13Q178.44 349.07 196.57 367.41"/><path d="M164.08 324.3Q187.85 342.99 200.76 370.33"/><path d="M169.42 319.03Q180.54 347.91 201.16 370.99"/><path d="M174.63 319.68Q189.87 337.33 201.48 357.56"/><path d="M168.47 321.65Q178.91 352.14 196.76 378.98"/><path d="M169.81 321.03Q183.18 345.24 194.65 370.41"/><path d="M157.18 324.74Q171.96 342.24 188.6 357.99"/><path d="M180.83 320.75Q171.43 336.33 175.5 354.07"/><path d="M173.1 322.6Q178.02 345.28 178.49 368.47"/><path d="M170.86 321.16Q175.85 334.54 173.52 348.62"/><path d="M168.29 322.33Q172.43 340.64 168.54 359"/><path d="M166.67 321.14Q170.93 340.17 171.45 359.67"/><path d="M171.13 321.15Q172.46 339.72 169.1 358.04"/><path d="M176.99 321.31Q175.34 339.61 171.43 357.56"/><path d="M179.95 320.26Q175.95 335.34 174.84 350.9"/><path d="M172.52 324.14Q156.06 340.71 158.6 363.92"/><path d="M162.11 318.83Q164 338.18 164.51 357.62"/><path d="M163.09 323.18Q153.93 344.24 163.7 365.02"/><path d="M172.22 317.98Q159.31 333.82 158.73 354.25"/><path d="M176.69 321.31Q180.07 342.89 172.79 363.47"/><path d="M166.43 319.04Q170.04 339.67 180.02 358.08"/><path d="M159.87 320.63Q158.66 346.53 169.98 369.85"/><path d="M160.73 323.83Q167.89 345.96 181.34 364.93"/><path d="M171.38 321.59Q173.38 341.74 173.55 361.98"/><path d="M185.83 320.08Q171.45 338.59 168.15 361.79"/><path d="M165.79 319.13Q178.67 334.96 178.75 355.37"/><path d="M162.82 318.02Q155.73 339.91 168.62 358.97"/><path d="M170.55 318.94Q160.56 337.93 147.17 354.69"/><path d="M160.61 317.54Q150.33 336.15 146.68 357.09"/><path d="M166.37 322.54Q144.77 325.66 132.55 343.74"/><path d="M161.81 325.32Q148.3 331.91 141.46 345.29"/><path d="M166.69 323.17Q146.18 330.73 137.19 350.66"/><path d="M165.07 322.49Q141.89 332.26 118.59 341.73"/><path d="M167.49 320.99Q141.76 328.99 128.55 352.48"/><path d="M182.03 320.8Q164.95 343.84 138.44 354.8"/><path d="M164.79 320.75Q144.88 339.57 127.7 360.92"/><path d="M166.83 318.46Q145.62 334.31 126.94 353.09"/><path d="M168.7 328.18Q161.26 339.25 149.4 345.35"/><path d="M172.21 317.26Q153.66 342.32 125.2 355.06"/><path d="M174.06 318.77Q155.44 333.7 134.35 344.88"/><path d="M161.46 322.51Q140.28 330.36 123.76 345.76"/><path d="M180.02 319.2Q166.33 347.35 137.69 359.98"/><path d="M170.72 326.83Q142.13 327.58 118.05 343.01"/><path d="M169.46 323.93Q159.15 352.01 130.65 361.08"/><path d="M172.29 320.1Q160.38 343.03 136.27 352.34"/><path d="M172.21 321.48Q158.92 342.45 143.76 362.09"/><path d="M170.44 321.71Q153.16 347.31 122.73 352.61"/><path d="M171.04 318.34Q178.15 312.89 185.94 317.3"/><path d="M171.69 320.61Q170.51 316.31 166.85 313.76"/><path d="M163.47 322.48Q156.52 317.37 147.96 318.43"/><path d="M170.86 323.9Q173.67 325.73 176.93 324.97"/><path d="M159.65 317.08Q161.4 326.12 153.77 331.28"/><path d="M170.4 323.02Q177.85 326.79 184.75 322.1"/><path d="M185.05 320.76Q181.53 317.07 176.71 318.73"/><path d="M167.5 319.9Q167.72 313.59 173.66 311.45"/><path d="M160.82 318.09Q177.35 315.66 189.05 327.57"/><path d="M166.51 313Q174.41 315.38 179.84 321.57"/><path d="M177.03 323.75Q187.86 322.47 194.09 313.53"/><path d="M173.22 320.21Q179.95 315.22 188.29 314.43"/><path d="M154.84 319.33Q165.73 321.55 172.79 312.96"/><path d="M157.05 319.58Q156.92 318.85 157.49 318.37"/><path d="M170.9 325.16Q168.66 324.29 166.55 325.45"/><path d="M159.95 328.3Q167.16 319.31 178.66 318.59"/><path d="M177.85 320.72Q164.09 329.49 148.15 326.06"/><path d="M157.51 324.59Q158.48 320.7 157.16 316.9"/><path d="M170.45 321.23Q180.35 320.15 187.7 326.85"/><path d="M162.86 318.21Q172.78 318.08 181.48 322.82"/><path d="M162.84 321.96Q165.25 319.32 168.77 319.93"/><path d="M168.72 324.92Q167.47 323.63 165.68 323.39"/><path d="M167.49 326.06Q162.65 322.19 162.89 315.99"/><path d="M183.73 320.14Q184.32 316.53 187.54 314.77"/><path d="M172.69 323.65Q167.82 318.34 167.31 311.16"/><path d="M163.06 316.37Q160.38 312.14 155.49 311.04"/><path d="M163.57 323.9Q157.51 322.01 153.73 316.9"/><path d="M167.78 324.33Q170.44 326.06 171.87 328.89"/><path d="M161.04 323.85Q173.21 335.05 188.11 327.86"/><path d="M173.88 327.13Q167.78 323.58 160.73 323.68"/><path d="M162.5 320.72Q158.91 312.09 149.6 311.17"/><path d="M173.88 319.68Q161 321.72 150.49 329.44"/><path d="M158.18 322.85Q157.58 318.38 153.88 315.81"/><path d="M166.06 312.86Q161.55 323.06 167.67 332.38"/><path d="M153.24 321.68Q155.69 317.31 154.13 312.55"/><path d="M173.31 324.99Q178.27 323.6 182.85 325.94"/><path d="M168.48 321.08Q169.81 326.77 174.1 330.75"/><path d="M160.21 332.39Q172.38 336.54 182.34 328.41"/><path d="M176.39 320.34Q182.1 319.33 187.22 322.04"/><path d="M167.04 324.45Q157.19 328.3 147.28 324.64"/><path d="M169.92 321.45Q176.77 316.49 185.15 315.29"/><path d="M163.35 329.75Q168.95 322.21 178.3 321.28"/><path d="M174.4 322.9Q184.81 324.33 194.7 320.78"/><path d="M169.6 321.32Q165.61 322.2 162.05 320.19"/><path d="M159.02 325.55L172.32 331.99"/><path d="M164.62 326.9L174.61 335.14"/><path d="M154.79 325.21L172.57 323.64"/><path d="M175.57 322.44L194.7 321.19"/><path d="M168.49 318.03L190.49 314.33"/><path d="M159.89 318.96L166.68 321.17"/><path d="M171.53 327.37L183.77 319.89"/><path d="M169.51 321.43L181.99 322.4"/><path d="M178.56 322.53L199.8 318.22"/><path d="M177.28 325.2L168.02 317.87"/><path d="M163.01 323.36L180.81 316.73"/><path d="M165.9 317.71L178.67 318.86"/><path d="M168.39 324.6L172.55 332.82"/><path d="M165.88 320.03L172.74 317.95"/><path d="M178.17 320.73L170.14 316.27"/><path d="M162.11 315.32L165.05 319.69"/><path d="M169.43 319.42L182.56 323.82"/><path d="M170.14 324.24L168.08 328.35"/><path d="M172.33 317.9L164.74 313.22"/><path d="M171.22 313.2L180.33 313.19"/><path d="M166.71 323.41L147.51 324.72"/><path d="M162.18 319.94L180.57 318.11"/><path d="M176.42 321.92L170.24 318.52"/><path d="M156.75 320.87L158.78 328.92"/><path d="M174 324.88L161.13 320.48"/><path d="M171.02 323.85L157.33 329.72"/><path d="M163.11 322.96L155.98 327.91"/><path d="M174.92 325.55L161.28 326.63"/><path d="M185.72 322.08L195.63 323.32"/><path d="M164.17 327.95L183.66 324.42"/><path d="M172.15 328.44L182.22 329.33"/><path d="M175.86 324.91L160.11 320.41"/><path d="M180.66 320.13L180.22 315.28"/><path d="M183.17 317.82L187.78 314.13"/><path d="M165.83 317.87L153.28 316.59"/><path d="M170.09 315.72L171.75 309.99"/><path d="M167.71 320.52L163.94 317.06"/><path d="M171.75 322.06L157.46 313.31"/><path d="M156.73 323.02L137.43 318.04"/><path d="M182.5 320.78L177.78 324.36"/><path d="M173.07 320.24L174.31 310.43"/><path d="M170.59 324L150.62 328.52"/><path d="M183.04 313.17L180.32 321.17"/><path d="M173.43 319.56L163.03 316.85"/><path d="M173.37 319.03L154.03 319.75"/><path d="M161.84 327.81L146.73 329.51"/><path d="M166.2 316.87L160.4 307.29"/><path d="M170.97 318.66L156.79 310.95"/><path d="M179.03 323.76L164.08 322.64"/><path d="M172.84 323.96L172.83 314"/><path d="M181.36 321.51L197.62 314.98"/><path d="M174.25 326.61L188.56 320.01"/><path d="M165.94 327.36L153.88 331.64"/><path d="M166.55 316.78L179.14 322.98"/><path d="M173.07 322.87L183.82 313.8"/><path d="M167.64 327.95L174.55 334.5"/><path d="M166.06 323.19L149.92 326.28"/><path d="M170.21 320.69L168.23 324.22"/><path d="M169.62 324.66L179.92 315.29"/><path d="M170 325.92L153.54 324.86"/><path d="M186.95 319.83L201.76 321.4"/><path d="M156.59 321.11L134.81 319.31"/><path d="M175.24 324.26L180.7 320.03"/><path d="M173.11 326.3L183.87 332.25"/><path d="M171.65 323.59L160.77 331.56"/><path d="M159.61 318.92L149.14 314.27"/><path d="M178.64 321.3L172.06 318.35"/><path d="M168.01 326.65L187.46 324.27"/><path d="M181.69 324.13L186.01 331.79"/><path d="M169.03 323.16L171.38 316.14"/><path d="M158.12 318.65L145.32 314.98"/><path d="M163.71 325.87L164.03 331.36"/><path d="M170.73 319.03L167.14 310.68"/><path d="M154.29 323.32L150.2 326.5"/><path d="M175.72 317.26L173.97 307.06"/><path d="M160.93 324.01L143.42 317.59"/><path d="M165.38 327.79L177.6 326.34"/><path d="M172.73 322.23L165.38 318.15"/><path d="M171.33 321.51L182.66 317.73"/><path d="M174.38 320.47L189.51 325.91"/><path d="M162.23 329.91L167.83 325.02"/><path d="M157.9 322.27L159.75 316.83"/><path d="M159.15 320.29L144.06 316.3"/><path d="M160.79 323.43L140.94 330.02"/><path d="M164.24 321.77L147.55 327.42"/><path d="M166.64 320.69L152.97 324.25"/><path d="M171.56 319.72L190.64 314.97"/><path d="M177.31 322.51L158.71 320.85"/><path d="M172.08 320.47L176.13 317.25"/><path d="M171.11 319.64L192.87 321.19"/></g><g fill="none" stroke="#1f77b4" stroke-opacity="0.55" stroke-width="0.45" stroke-linecap="round"><path d="M160 325Q94.54 343.9 31.8 370.5"/><path d="M160 325Q100.09 342.48 42.7 367"/><path d="M160 325Q108.78 334.06 57 339"/><path d="M160 325Q112.07 324.87 64.5 319"/><path d="M160 325Q112.63 319.9 65 318.6"/><path d="M160 325Q117.5 325 75 325"/><path d="M160 325Q122.68 324.01 85.4 326"/><path d="M160 325Q125.05 321.29 90.5 314.8"/><path d="M160 325Q104.04 337.7 50 357"/><path d="M160 325Q114.52 335.2 70 349"/><path d="M160 325Q129.12 302.11 112 267.7"/><path d="M160 325Q132.39 304.73 114.7 275.4"/><path d="M160 325Q130.15 312.14 105.8 290.6"/><path d="M160 325Q161.7 300.9 154 278"/></g><g fill="none" stroke="#1f77b4" stroke-opacity="0.6" stroke-width="0.5"><path d="M178 340Q182 392 247 417.5"/><path d="M200 335Q214 360 213.3 376"/></g>
<ellipse cx="167" cy="322.5" rx="23" ry="9.5" fill="url(#coreb)"/>
<g transform="translate(0 239)">
<g fill="none" stroke="#222" stroke-opacity="0.7" stroke-width="0.42"><path d="M175.07 66.41 172.81 67.7 170.78 68.03 172.83 66.89 170.76 66.56"/><path d="M172.74 72.82 174.37 71.31 172.99 71.82"/><path d="M192.54 73.23 190.28 72.12 190.57 70.65 190.16 70.81"/><path d="M181.99 72.96 180.39 73.29 181.08 72.78 181.32 71.03 179.12 69.86"/><path d="M185.05 70.84 184.88 72.54 184.19 71.53 182.59 72.65"/><path d="M168.29 68.8 170.17 69.72 169.11 71.64 167.2 71.31"/><path d="M187.2 66.43 186.81 68.28 184.7 68.51 186.14 69.79"/><path d="M175.52 69.6 175.92 69.43 177.62 71.21 177.49 71.86"/><path d="M167.7 75.22 168.09 75.95 167.82 76.82 169.75 76.2 171.96 75.63"/><path d="M183.11 71.9 184.45 70.42 183.18 69.98"/><path d="M190.4 65.29 189.91 64.4 188.09 64.12 188.34 64.95"/><path d="M193.62 74.92 195.91 73.53 194.29 72.46 192.96 72.39"/><path d="M182.5 68.2 180.72 68.34 181.27 67.62"/><path d="M169.51 77.75 170.29 78.71 170.07 80.19 172.33 80.91 172.63 80.5"/><path d="M177.04 71.7 174.85 69.97 173.39 68.62 172.59 66.83"/><path d="M166.01 66.42 168.25 66.88 166.1 65.71"/><path d="M176.53 74.15 177.05 74.05 175.12 74 177.51 73.92"/><path d="M174.73 66.31 173.95 65.36 175.59 64.01 173.2 65.81 173.35 64.4"/><path d="M181.21 64.43 180.2 65 178.15 66.39 178.25 68.02 177.52 66.91"/><path d="M181.16 72.04 179.78 73.29 182.2 74.7 183.73 75.97 184.93 74.88"/><path d="M180.49 69.69 182.94 70.85 182.8 69.62"/><path d="M182.94 69.51 185.38 71.33 184.71 70.21 183.34 69 181.86 69.49"/><path d="M191.21 77.45 193.25 76.82 193.97 78.16 192.07 77.72"/><path d="M185.92 67.19 185.59 67.73 183.53 69.52"/><path d="M186.21 71.41 188.45 72.31 186.8 70.82 185.05 72.44 186.58 71.02"/><path d="M189.14 79.68 191.33 78.31 191.57 76.39 193.07 77.3 191.08 78.3"/><path d="M169.9 79.78 171.53 78.63 170.29 77.8"/><path d="M172.74 73.38 172.96 74.72 170.76 75.68 172.75 76.33"/><path d="M188.82 72.27 186.98 70.88 187.03 72.37 188.41 72.8 189.79 71.4"/><path d="M169.96 73.91 170.25 73.21 170.34 73.43"/><path d="M187.96 65.7 185.74 64.46 183.45 62.85 183.22 60.97 185.19 59.22"/><path d="M175.12 79.57 175.18 80.34 174.94 80.48 174.83 82.24 175.83 83.75"/><path d="M192.38 68.15 194.34 66.96 194.08 66.63 193.54 65.89 194.4 65.61"/><path d="M171.96 68.84 173.94 67.46 175.02 68.1"/><path d="M170 78.13 168.6 79.94 168.09 79.88 170.54 81.21"/><path d="M170.52 70.9 170.04 70.59 169.32 68.96 168.65 68.31 168.45 69.12"/><path d="M176.76 72.28 176.82 70.54 179.25 71.69 181.61 70.11"/><path d="M173.44 64.63 172.29 63.15 171.9 64.8"/><path d="M188.93 68.14 189.11 68.2 189.09 67.51"/><path d="M173.81 76.79 173.44 75.08 175.63 75.62"/><path d="M188.45 65.34 186.28 66.79 186.05 66.15"/><path d="M181.49 78.83 182.09 77 183.14 78.75 185.49 77.8"/><path d="M171.07 78.92 170.1 79.95 169.05 79.95 167.44 79.34 165.03 78.34"/><path d="M166.43 75.73 168.82 75.79 167.55 75.57 168.34 76.17 169.12 76.36"/><path d="M190.88 79.52 191.82 81.45 191.04 82.78 192.07 83.33"/><path d="M177.33 69.56 179.02 67.62 179.64 69.14"/><path d="M178.06 64.89 179.77 66.37 180.62 65.5 179.33 64.67 179.13 63.3"/><path d="M178.48 68.21 180.85 68.4 179.57 70.26 178.62 69.69"/><path d="M166.03 70.11 164.92 70.73 163.67 71.84 161.62 73.1"/><path d="M170.03 73.39 167.64 72.61 166.3 72.95 166.45 73.95"/><path d="M184.41 75.46 183.86 74.76 186.28 73.36 187.4 73.93 185.12 75.27"/><path d="M190.97 74.04 191.98 74.06 194.03 75.07 194.37 76.32 191.95 77.07"/><path d="M188.34 75.38 189.06 73.72 186.77 74.27 189.06 73.77 188.82 71.98"/><path d="M166.53 72.5 166.47 70.52 167.96 71.51"/><path d="M180.08 72.56 180.21 73.55 180.08 74.78 181.81 73.72 183.1 72.65"/><path d="M184.2 71.37 182.08 73.01 181.02 71.19 181.68 69.99"/><path d="M182.79 69.31 184.01 68.53 184.35 66.58 182.15 65.65 183.01 66.42"/><path d="M184.92 68.65 183.85 68.52 185.18 70.49 185.43 69.74 183.36 69.63"/><path d="M174.11 65.22 176.45 65.02 175.29 63.86 177.52 62.7 177.93 61.27"/><path d="M180.67 79.24 181.19 79.77 180.09 78.22"/><path d="M176.23 71.97 175.7 70.6 177.95 71.33 177.47 72.24"/><path d="M177.65 70.02 179.35 68.02 180.61 69.38"/><path d="M169.36 78.82 166.92 79.78 165.69 78.04 165.14 79.52 163.02 81.22"/><path d="M187.16 77.67 185.17 79.01 184.1 80.75 182.84 79.81"/><path d="M180.31 67.04 181.73 66.75 179.38 67.8 178.88 69.3"/><path d="M181.52 67.25 179.26 68.18 179.02 69.2"/><path d="M184.05 68.58 186.11 68.78 184.46 68.44"/><path d="M173.89 68.09 176.27 67.13 177.05 66.34 177.34 65.91 175.67 64.56"/><path d="M171.82 78.5 172.07 78.31 171.24 79.34 170.87 79.54"/><path d="M172.83 66.8 170.79 65.75 169.58 66.03 171.52 67.03 171.08 66.68"/><path d="M180.68 70.03 181.94 70.02 182.31 69.46 183.24 69.58"/><path d="M188.13 77.58 186.98 76.57 186.48 76.36"/><path d="M192.71 77.58 190.85 77.28 192.17 78.5"/><path d="M193.11 71.84 192.57 73.54 194.2 74.97"/><path d="M193.22 67.98 191.84 66.58 194.2 65.02"/><path d="M189.11 75.22 187.04 76.32 184.54 74.83 184.89 72.98"/><path d="M186.02 79.4 184.78 79.94 185.77 78.39 183.62 78.49 184.04 78.04"/><path d="M172.26 73.62 172.45 75.6 171.34 74.87"/><path d="M189.5 67.88 188.18 66.87 190.48 67.68 189.52 65.77 189.51 66.47"/><path d="M177.76 68.12 177.38 67.6 177.35 68.38 178.44 67.83 177.92 65.86"/><path d="M174.18 77.52 172.71 79.4 171.76 80.68"/><path d="M172.46 67.54 170.51 68.04 171.06 69.62 170.98 71.26"/><path d="M167.58 73.52 165.35 71.61 165.83 71.27 166.88 70.01"/><path d="M178.59 75.39 179.75 77.38 181.91 76.7 180.34 78.44"/><path d="M186.9 64.51 188.02 65.87 190.45 65.64 188.49 63.95 186.4 63.63"/><path d="M190.78 72.98 190.19 74.05 189.23 75.27"/><path d="M168.46 75.28 167.82 76.96 166.29 76.42"/><path d="M191.12 64.48 189.86 64.99 189.38 64.49 189.2 65.7"/><path d="M167.74 67.12 169.73 66.48 168.59 68.31"/><path d="M183.28 68.19 184.22 69.89 183.21 70.78 183.69 72 185.92 70.26"/><path d="M189.13 65.72 191.41 67.53 190.84 66.54 190.49 66.51 192.64 65.24"/><path d="M188.47 75.82 189.84 76.24 188.97 75.52 188.28 76.65 186.18 75.44"/><path d="M187.08 67.96 187.83 67.88 188.05 66.53"/><path d="M177.94 65.68 176.77 64.02 174.75 64.01"/><path d="M185.87 71.15 184.04 71 185.99 69.93"/><path d="M181.08 76.38 182.48 75.56 181.38 74.63"/><path d="M173.11 68.17 171.85 67.15 170.12 68.68 170.51 67.99"/><path d="M177.09 79.88 177.22 80.48 175.22 80.33 172.91 78.35 174.82 77.28"/><path d="M178.55 69.98 177.22 68.18 177.72 69.5 176.19 67.8"/><path d="M180.35 66.84 179.15 67.96 181.38 66.38 181.86 66.86 180.45 66.33"/><path d="M169.96 67.26 167.65 68.19 169.72 69.45 171.31 69.09"/><path d="M176.41 73.94 174.93 75.12 175.17 73.37"/><path d="M168.84 70.32 167.11 70.46 167.88 70.05 166.73 72 167.57 71.68"/><path d="M167.44 75.93 167.01 74 168.34 75.21 169.06 74.77"/><path d="M177.34 79.07 179.35 78.77 180.95 78.39 182.86 78.24"/><path d="M170.55 64.24 168.76 65.46 168.25 65.75 170.38 66.7 168.74 66.1"/><path d="M170.53 66.75 168.57 66.71 170.1 68.58"/><path d="M171.53 66.03 173.9 65.96 171.67 67.66"/><path d="M176.86 78.47 177.8 80.03 178.5 81.46 179.11 81.92 177.59 81.81"/><path d="M181.83 64.67 180.11 64.1 178.36 65.99 179.94 64.76 181.86 66.13"/><path d="M184.82 74.69 182.91 75.08 183.16 75.59 182.19 75.27"/><path d="M182.31 70.81 181.65 70.83 180.04 68.84 182.48 68.7 182.21 69.18"/><path d="M188.93 77.38 188.43 75.65 187.73 75.11 189.24 75.13"/><path d="M184.4 64.65 182.31 65.58 183.7 65.63"/><path d="M167.52 72.06 168.28 73.2 165.91 71.47 166.48 72.24"/><path d="M169.07 66.11 168.01 67.35 169.48 68.09 170.59 66.98"/><path d="M189.33 73.77 187.62 75.35 186.49 76.62 184.71 76.62"/><path d="M191.76 67.33 192.34 66.28 191.7 65.08 191.22 65.62"/><path d="M173.79 69.25 172.13 70.38 170.21 70.51 170.89 69.95"/><path d="M190.44 72.88 191.39 74.47 190.15 74.61 191.93 75.56 191.29 75.06"/><path d="M176.33 66.34 177.65 66.11 176.04 67.08 173.78 68.36"/><path d="M173.1 74.23 175.24 75.81 176.41 76.8 175.02 75.96 175.65 75.63"/><path d="M176.19 64.76 174.83 65.38 172.44 63.39 171.72 61.81"/><path d="M176 67.59 175.01 66.12 174.34 67.44 172.63 65.49 174.14 66.32"/><path d="M178.62 65.02 180.48 66.15 179.99 65.2"/><path d="M166.32 74.32 168.29 74.7 168.68 75.11 168.77 75.08 167.09 73.08"/><path d="M167.72 64.4 166.41 62.64 167.81 60.69"/><path d="M181.43 79.05 180.99 79.13 181.71 79.72"/><path d="M177.63 73.81 176.67 73.01 174.42 74.57 175.83 75.43 173.36 76.81"/><path d="M186.87 71.44 187.64 70.15 190.13 69.19 190.85 67.68 192.8 69.39"/><path d="M192.4 68.21 191.23 68.43 190.91 69.58"/><path d="M180.65 68.24 182.79 69.82 180.72 69.85 179.07 71.47 180.78 70.28"/><path d="M170.46 78.64 172.36 77.95 171.05 79.58"/><path d="M183.66 75.09 185.37 75.23 185.23 75.35 182.76 73.46 185.04 72.39"/><path d="M190.77 76.63 191.39 74.94 193.44 73.52 191.07 71.94"/><path d="M192.01 69.52 193.01 67.64 191.21 68.22"/><path d="M167.19 65.09 165.02 65.45 164.34 66.72"/><path d="M188.95 78.26 190.85 79.28 191.9 78.82"/><path d="M172.9 67.25 170.58 68.64 172.14 69.18"/><path d="M189.1 74.1 188.99 72.64 190.45 73.22 189.42 72.57"/><path d="M173.31 69.61 171.05 70.65 173.11 71.73 173.62 71.64"/><path d="M174.05 75.93 171.71 76 169.7 75.88 167.44 76.15"/><path d="M186 77.25 187.6 75.93 185.11 74.73 186.42 76.65 183.94 76.61"/><path d="M179.76 76.75 182.1 77.12 184.38 77.18"/><path d="M182.18 66.54 184.38 65.47 182.7 67.22"/><path d="M187.47 71.84 187.78 70.26 186.91 68.64 189.05 70.21 190.28 69.9"/><path d="M184.08 69.95 182.9 71.56 182.91 71.07 184.83 70.01"/><path d="M178.91 72.5 180.17 73.09 179.41 72.4 177.69 73.77 178.5 74.74"/><path d="M170.75 71.02 171.14 69.52 170.95 71.07 169.64 69.83"/><path d="M174.44 75.25 172.72 73.87 171.45 73.18 171.56 71.82 170.7 70.58"/></g>
<g fill="none" stroke="#222" stroke-opacity="0.8" stroke-width="0.45"><path d="M194.33 66.35 192.76 67.05 191.96 66.91"/><path d="M196.88 65.68 197.89 66.59 196.23 68.38 198.49 68.07 196.83 66.27"/><path d="M188.38 74.82 186.2 75.57 187.65 77.12 189.74 75.94 188.36 77.11"/><path d="M202.01 73.13 201.5 72.5 199.21 73.34"/><path d="M186.09 66.99 187.82 65.55 186.51 66.49 188.26 68.35"/><path d="M186.07 72.99 188.05 71.81 185.59 70.14"/><path d="M195.72 60.3 196.08 60.45 194.57 58.72"/><path d="M189.46 73 189.86 71.69 190.4 73.53 188.17 73.75 188.71 72.34"/><path d="M190.83 76.91 188.94 77.73 191.19 76.68"/><path d="M197 60.73 198.73 60.82 199.05 61.57 200.89 60.01"/><path d="M201.87 66.21 201.38 68.16 201.75 66.23"/><path d="M200.39 65.59 198.45 64.47 197.3 65.73 196.33 64.87"/><path d="M195.32 60.94 196.72 62.17 196.71 63.01 195.45 63.96"/><path d="M193.65 63.93 193.7 65.75 194 64.31 192.95 65.08"/><path d="M201.76 60.5 200.57 59.16 198.68 57.75"/><path d="M186.88 67.66 185.85 65.72 187.34 64.86 187.25 63.97"/><path d="M203.31 72.71 204.29 70.97 204.05 71.79 205.37 71.32"/><path d="M201.97 62.87 200.84 63.26 201.38 62.66 203.5 61.77 201.64 62.96"/><path d="M200.77 62.76 202.56 61.57 202.43 61.94"/><path d="M195.82 61.41 195.73 63.2 195.91 64.97 193.55 66.94 195.5 67.12"/><path d="M195.42 69.13 197.31 69.43 199.59 67.68"/><path d="M190.04 62.34 191.03 62.15 190.99 62.7"/><path d="M186.95 70.25 185.67 70.08 185.03 71.93 185.39 71.92"/><path d="M190.38 70.58 190.94 71.29 190.48 69.57"/><path d="M189.4 70.34 187.33 68.46 187.95 68.65"/><path d="M194.54 71.96 193.71 73.09 191.26 74.91"/><path d="M196.62 76.6 198.29 75.02 197.53 73.95 198.93 72.72"/><path d="M189.98 61.88 187.85 62.46 185.77 60.88"/><path d="M186.42 70.65 185.77 71.19 184.45 70.22"/><path d="M195.32 63.36 194.09 63.8 196.39 63.88 195.98 65.47"/><path d="M194.56 65.36 195.26 66.08 193.42 64.24"/><path d="M189.36 66.01 191.51 67.51 193.61 69.38 191.59 68.66"/><path d="M190.45 70.27 190.77 71.79 192.73 71.51 190.62 70.72"/><path d="M194.4 75.72 194.1 74.46 193.61 73.76 191.96 73.94"/><path d="M189.39 72.1 191.38 73.87 189.31 75.77 191.62 76.17 193.82 76.85"/><path d="M192.93 71.85 190.81 72.53 190.42 71.44 191.55 72.49"/><path d="M200.39 68.54 201.47 67.68 201.64 65.96 199.19 67.65"/><path d="M186.76 62.53 187.72 62.57 189.17 62.19"/><path d="M201.12 66.62 201.15 65.16 202.1 64.6 200.95 63.88 200.37 62.61"/><path d="M197.03 74.76 195.38 73.99 197.32 73.1 197.43 74.12 197.07 76.03"/><path d="M187.69 64.84 187.44 65.56 186.1 64.89 187.35 64.28 187.85 64.46"/><path d="M202.72 60.45 202.91 62.25 204.22 62.06"/><path d="M192.13 72.71 194.14 71.58 192.66 72.32"/><path d="M193.62 74.39 195.8 75.26 195.78 73.5"/><path d="M200.55 66.78 200.23 67.68 198.69 66.08 197.02 66.43"/><path d="M202.04 64.42 203.37 66.3 201.81 66.42"/><path d="M202.79 69.18 201.41 71.17 199.05 72.03 199.48 73.92 200.27 73.27"/><path d="M198.73 65.61 196.41 65.24 197.81 65.05 200.13 63.22"/><path d="M189.12 62.45 190.17 62.99 191.65 64.69 191.05 65.72 192.98 65.73"/><path d="M200.96 60.56 199.16 60.23 200.4 61.57 201.23 62.04"/><path d="M195.22 68.47 193.99 68.92 196.24 68.31 193.81 67.1"/><path d="M187.06 68.99 189.21 67.4 191.02 66.19 192.12 65.21"/><path d="M191.32 60.2 192 61.94 191.35 62.5 190.46 64.16 190.73 62.27"/><path d="M199.35 63.57 197.91 62.6 199.82 62.36"/><path d="M192.35 73.13 190.32 72.77 189.95 71.47"/><path d="M190.36 62.64 192.09 62.1 192.9 63.69 192.15 63.75 194.12 61.88"/><path d="M203.53 65.32 202.49 65.07 204.88 64.76 206.18 62.99"/><path d="M192.46 72.37 191.07 71.41 190.83 69.67 193.1 69.3 195.37 68.04"/><path d="M197.67 73.58 196.78 73.56 195.82 71.87 194.62 70.65 195.04 72.57"/><path d="M194.48 70.34 193.44 68.37 191.53 68.68"/></g>
<g fill="none" stroke="#333" stroke-width="0.5"><path d="M193.7 60.7V55.7H201.5"/><path d="M194.5 65.4L199.7 65.4L204.3 68.7M199.7 65.4V69.5"/></g><g fill="none" stroke="#1e1e1e" stroke-width="0.95" stroke-linejoin="round" stroke-linecap="round"><path d="M190.6 61.6L192.8 60.3L195.8 60.6L198.6 61.4"/><path d="M192.2 62.6L195.4 62.1L197.2 63.3"/><path d="M194.6 61.2V71.8"/><path d="M193.3 63.2L193.7 69.8"/><path d="M195.2 69.2L197.8 70.8L200.4 72.3L202.6 73.6"/><path d="M198.8 72.6L200.2 74.6L201.8 75.6"/><path d="M196 66.5L197.6 67.8"/></g>
<ellipse cx="51.2" cy="152.4" rx="0.7" ry="1.3" fill="#111"/>
<text x="174.4" y="51.4" class="pl" textLength="21.6" lengthAdjust="spacingAndGlyphs">Limpopo</text>
<text x="185.7" y="73.9" class="pl" textLength="32.4" lengthAdjust="spacingAndGlyphs">Mpumalanga</text>
<text x="119.6" y="78" class="pl" textLength="28.8" lengthAdjust="spacingAndGlyphs">North West</text>
<text x="145" y="103.2" class="pl" textLength="24.6" lengthAdjust="spacingAndGlyphs">Free State</text>
<text x="189.7" y="104.8" class="pl" textLength="37.2" lengthAdjust="spacingAndGlyphs">KwaZulu-Natal</text>
<text x="84.1" y="112.6" class="pl" textLength="36.4" lengthAdjust="spacingAndGlyphs">Northern Cape</text>
<text x="143.3" y="141.8" class="pl" textLength="33.1" lengthAdjust="spacingAndGlyphs">Eastern Cape</text>
<text x="62.1" y="158.3" class="pl" textLength="36" lengthAdjust="spacingAndGlyphs">Western Cape</text>
</g>
<text x="27.3" y="276.6" class="tt" style="font-size:5.9px" textLength="66.2" lengthAdjust="spacingAndGlyphs">HYSPLIT Backward Trajectory</text>
<text x="27.3" y="282.1" class="tt" style="font-size:5.9px" textLength="62.6" lengthAdjust="spacingAndGlyphs">1000 meters above the ground</text>
<text x="27.3" y="287.6" class="tt" style="font-size:5.9px" textLength="29.2" lengthAdjust="spacingAndGlyphs">(1000MAGL)</text>
<rect x="179.5" y="410.7" width="24.5" height="2.8" fill="#fff" stroke="#333" stroke-width="0.5"/>
<rect x="179.5" y="410.7" width="12.25" height="2.8" fill="#111"/>
<text x="178.7" y="407.9" class="sb">0</text>
<text x="188.95" y="407.9" class="sb">100</text>
<text x="200.8" y="407.9" class="sb">200 km</text>
<rect x="285.5" y="17.5" width="197.5" height="180.5" fill="none" stroke="#888" stroke-width="1"/>
<path d="M375.75 20.04A95.8 88.2 0 0 1 392.45 20.04L387.26 74.6A36.31 33.43 0 0 0 380.94 74.6Z" fill="#FFEB9B" stroke="#FFEB9B" stroke-width="0.35"/>
<path d="M392.45 20.04A95.8 88.2 0 0 1 408.89 22.71L393.5 75.61A36.31 33.43 0 0 0 387.26 74.6Z" fill="#FEAE4A" stroke="#FEAE4A" stroke-width="0.35"/>
<path d="M408.89 22.71A95.8 88.2 0 0 1 424.59 27.96L399.44 77.6A36.31 33.43 0 0 0 393.5 75.61Z" fill="#FED06C" stroke="#FED06C" stroke-width="0.35"/>
<path d="M424.59 27.96A95.8 88.2 0 0 1 439.05 35.65L404.93 80.52A36.31 33.43 0 0 0 399.44 77.6Z" fill="#FECD69" stroke="#FECD69" stroke-width="0.35"/>
<path d="M439.05 35.65A95.8 88.2 0 0 1 451.84 45.53L409.77 84.26A36.31 33.43 0 0 0 404.93 80.52Z" fill="#FEB24C" stroke="#FEB24C" stroke-width="0.35"/>
<path d="M451.84 45.53A95.8 88.2 0 0 1 462.57 57.31L413.84 88.73A36.31 33.43 0 0 0 409.77 84.26Z" fill="#FD9C42" stroke="#FD9C42" stroke-width="0.35"/>
<path d="M462.57 57.31A95.8 88.2 0 0 1 470.92 70.63L417.01 93.77A36.31 33.43 0 0 0 413.84 88.73Z" fill="#FC512B" stroke="#FC512B" stroke-width="0.35"/>
<path d="M470.92 70.63A95.8 88.2 0 0 1 476.64 85.07L419.17 99.25A36.31 33.43 0 0 0 417.01 93.77Z" fill="#E31A1C" stroke="#E31A1C" stroke-width="0.35"/>
<path d="M476.64 85.07A95.8 88.2 0 0 1 479.54 100.21L420.27 104.99A36.31 33.43 0 0 0 419.17 99.25Z" fill="#FFFEC8" stroke="#FFFEC8" stroke-width="0.35"/>
<path d="M479.54 100.21A95.8 88.2 0 0 1 479.54 115.59L420.27 110.81A36.31 33.43 0 0 0 420.27 104.99Z" fill="#FC5B2E" stroke="#FC5B2E" stroke-width="0.35"/>
<path d="M479.54 115.59A95.8 88.2 0 0 1 476.64 130.73L419.17 116.55A36.31 33.43 0 0 0 420.27 110.81Z" fill="#FC5B2E" stroke="#FC5B2E" stroke-width="0.35"/>
<path d="M476.64 130.73A95.8 88.2 0 0 1 470.92 145.17L417.01 122.03A36.31 33.43 0 0 0 419.17 116.55Z" fill="#FEA245" stroke="#FEA245" stroke-width="0.35"/>
<path d="M470.92 145.17A95.8 88.2 0 0 1 462.57 158.49L413.84 127.07A36.31 33.43 0 0 0 417.01 122.03Z" fill="#FD9F44" stroke="#FD9F44" stroke-width="0.35"/>
<path d="M462.57 158.49A95.8 88.2 0 0 1 451.84 170.27L409.77 131.54A36.31 33.43 0 0 0 413.84 127.07Z" fill="#FFFCC5" stroke="#FFFCC5" stroke-width="0.35"/>
<path d="M451.84 170.27A95.8 88.2 0 0 1 439.05 180.15L404.93 135.28A36.31 33.43 0 0 0 409.77 131.54Z" fill="#FED976" stroke="#FED976" stroke-width="0.35"/>
<path d="M439.05 180.15A95.8 88.2 0 0 1 424.59 187.84L399.44 138.2A36.31 33.43 0 0 0 404.93 135.28Z" fill="#FEDC7D" stroke="#FEDC7D" stroke-width="0.35"/>
<path d="M424.59 187.84A95.8 88.2 0 0 1 408.89 193.09L393.5 140.19A36.31 33.43 0 0 0 399.44 138.2Z" fill="#FEDF83" stroke="#FEDF83" stroke-width="0.35"/>
<path d="M408.89 193.09A95.8 88.2 0 0 1 392.45 195.76L387.26 141.2A36.31 33.43 0 0 0 393.5 140.19Z" fill="#FFE48E" stroke="#FFE48E" stroke-width="0.35"/>
<path d="M392.45 195.76A95.8 88.2 0 0 1 375.75 195.76L380.94 141.2A36.31 33.43 0 0 0 387.26 141.2Z" fill="#FED673" stroke="#FED673" stroke-width="0.35"/>
<path d="M375.75 195.76A95.8 88.2 0 0 1 359.31 193.09L374.7 140.19A36.31 33.43 0 0 0 380.94 141.2Z" fill="#FFE48E" stroke="#FFE48E" stroke-width="0.35"/>
<path d="M359.31 193.09A95.8 88.2 0 0 1 343.61 187.84L368.76 138.2A36.31 33.43 0 0 0 374.7 140.19Z" fill="#FEDF83" stroke="#FEDF83" stroke-width="0.35"/>
<path d="M343.61 187.84A95.8 88.2 0 0 1 329.15 180.15L363.27 135.28A36.31 33.43 0 0 0 368.76 138.2Z" fill="#FEDB79" stroke="#FEDB79" stroke-width="0.35"/>
<path d="M329.15 180.15A95.8 88.2 0 0 1 316.36 170.27L358.43 131.54A36.31 33.43 0 0 0 363.27 135.28Z" fill="#FEC662" stroke="#FEC662" stroke-width="0.35"/>
<path d="M316.36 170.27A95.8 88.2 0 0 1 305.63 158.49L354.36 127.07A36.31 33.43 0 0 0 358.43 131.54Z" fill="#FEB24C" stroke="#FEB24C" stroke-width="0.35"/>
<path d="M305.63 158.49A95.8 88.2 0 0 1 297.28 145.17L351.19 122.03A36.31 33.43 0 0 0 354.36 127.07Z" fill="#FD9F44" stroke="#FD9F44" stroke-width="0.35"/>
<path d="M297.28 145.17A95.8 88.2 0 0 1 291.56 130.73L349.03 116.55A36.31 33.43 0 0 0 351.19 122.03Z" fill="#FD7435" stroke="#FD7435" stroke-width="0.35"/>
<path d="M291.56 130.73A95.8 88.2 0 0 1 288.66 115.59L347.93 110.81A36.31 33.43 0 0 0 349.03 116.55Z" fill="#E9261F" stroke="#E9261F" stroke-width="0.35"/>
<path d="M288.66 115.59A95.8 88.2 0 0 1 288.66 100.21L347.93 104.99A36.31 33.43 0 0 0 347.93 110.81Z" fill="#E51E1D" stroke="#E51E1D" stroke-width="0.35"/>
<path d="M288.66 100.21A95.8 88.2 0 0 1 291.56 85.07L349.03 99.25A36.31 33.43 0 0 0 347.93 104.99Z" fill="#FC512B" stroke="#FC512B" stroke-width="0.35"/>
<path d="M291.56 85.07A95.8 88.2 0 0 1 297.28 70.63L351.19 93.77A36.31 33.43 0 0 0 349.03 99.25Z" fill="#FFFEC8" stroke="#FFFEC8" stroke-width="0.35"/>
<path d="M297.28 70.63A95.8 88.2 0 0 1 305.63 57.31L354.36 88.73A36.31 33.43 0 0 0 351.19 93.77Z" fill="#BC1A2C" stroke="#BC1A2C" stroke-width="0.35"/>
<path d="M305.63 57.31A95.8 88.2 0 0 1 316.36 45.53L358.43 84.26A36.31 33.43 0 0 0 354.36 88.73Z" fill="#F33B25" stroke="#F33B25" stroke-width="0.35"/>
<path d="M316.36 45.53A95.8 88.2 0 0 1 329.15 35.65L363.27 80.52A36.31 33.43 0 0 0 358.43 84.26Z" fill="#FC512B" stroke="#FC512B" stroke-width="0.35"/>
<path d="M329.15 35.65A95.8 88.2 0 0 1 343.61 27.96L368.76 77.6A36.31 33.43 0 0 0 363.27 80.52Z" fill="#FD7E38" stroke="#FD7E38" stroke-width="0.35"/>
<path d="M343.61 27.96A95.8 88.2 0 0 1 359.31 22.71L374.7 75.61A36.31 33.43 0 0 0 368.76 77.6Z" fill="#FC6A32" stroke="#FC6A32" stroke-width="0.35"/>
<path d="M359.31 22.71A95.8 88.2 0 0 1 375.75 20.04L380.94 74.6A36.31 33.43 0 0 0 374.7 75.61Z" fill="#FEB24C" stroke="#FEB24C" stroke-width="0.35"/>
<g stroke="#000" stroke-opacity="0.45" stroke-width="0.95" fill="none">
<path d="M384.1 74.47V20.3"/>
<path d="M381.9 23.3L384.1 20.6L386.3 23.3"/>
<path d="M384.1 141.33V195.5"/>
<path d="M381.9 192.5L384.1 195.2L386.3 192.5"/>
<path d="M420.41 107.9H479.3"/>
<path d="M476.3 105.7L479 107.9L476.3 110.1"/>
<path d="M347.79 107.9H288.9"/>
<path d="M291.9 105.7L289.2 107.9L291.9 110.1"/>
</g>
<ellipse cx="384.1" cy="107.9" rx="36.31" ry="33.43" fill="#fff"/>
<text x="389.2" y="27.2" class="dl">N</text>
<text x="472.8" y="104.6" class="dl">E</text>
<text x="389" y="194" class="dl">S</text>
<text x="291.2" y="104.6" class="dl">W</text>
<defs><linearGradient id="g107" x1="0" y1="0" x2="0" y2="1"><stop offset="0" stop-color="#800026"/><stop offset="0.05" stop-color="#980026"/><stop offset="0.1" stop-color="#B10026"/><stop offset="0.15" stop-color="#C50524"/><stop offset="0.2" stop-color="#D41020"/><stop offset="0.25" stop-color="#E31A1C"/><stop offset="0.3" stop-color="#ED2F22"/><stop offset="0.35" stop-color="#F74427"/><stop offset="0.4" stop-color="#FC5B2E"/><stop offset="0.45" stop-color="#FD7435"/><stop offset="0.5" stop-color="#FD8D3C"/><stop offset="0.55" stop-color="#FD9C42"/><stop offset="0.6" stop-color="#FEAB49"/><stop offset="0.65" stop-color="#FEBA54"/><stop offset="0.7" stop-color="#FEC965"/><stop offset="0.75" stop-color="#FED976"/><stop offset="0.8" stop-color="#FEE187"/><stop offset="0.85" stop-color="#FFE998"/><stop offset="0.9" stop-color="#FFF1A9"/><stop offset="0.95" stop-color="#FFF8BA"/><stop offset="1" stop-color="#FFFFCC"/></linearGradient></defs>
<rect x="486.4" y="44.6" width="7.6" height="126.7" fill="url(#g107)" stroke="#7a5a3a" stroke-width="0.6"/>
<path d="M494 171.3H495.8" stroke="#555" stroke-width="0.6"/>
<text x="499.3" y="173.4" class="ct">0</text>
<path d="M494 160.65H495.8" stroke="#555" stroke-width="0.6"/>
<text x="499.3" y="162.75" class="ct">0.5</text>
<path d="M494 150.01H495.8" stroke="#555" stroke-width="0.6"/>
<text x="499.3" y="152.11" class="ct">1</text>
<path d="M494 139.36H495.8" stroke="#555" stroke-width="0.6"/>
<text x="499.3" y="141.46" class="ct">1.5</text>
<path d="M494 128.71H495.8" stroke="#555" stroke-width="0.6"/>
<text x="499.3" y="130.81" class="ct">2</text>
<path d="M494 118.06H495.8" stroke="#555" stroke-width="0.6"/>
<text x="499.3" y="120.16" class="ct">2.5</text>
<path d="M494 107.42H495.8" stroke="#555" stroke-width="0.6"/>
<text x="499.3" y="109.52" class="ct">3</text>
<path d="M494 96.77H495.8" stroke="#555" stroke-width="0.6"/>
<text x="499.3" y="98.87" class="ct">3.5</text>
<path d="M494 86.12H495.8" stroke="#555" stroke-width="0.6"/>
<text x="499.3" y="88.22" class="ct">4</text>
<path d="M494 75.48H495.8" stroke="#555" stroke-width="0.6"/>
<text x="499.3" y="77.58" class="ct">4.5</text>
<path d="M494 64.83H495.8" stroke="#555" stroke-width="0.6"/>
<text x="499.3" y="66.93" class="ct">5</text>
<path d="M494 54.18H495.8" stroke="#555" stroke-width="0.6"/>
<text x="499.3" y="56.28" class="ct">5.5</text>
<text x="499.3" y="23.9" class="cl">contribution</text>
<text x="499.3" y="32.8" class="cl">(%)</text>
<text x="499.3" y="187.3" class="cl">O<tspan font-size="3.6" dy="1.2">3</tspan></text>
<rect x="287.7" y="257.7" width="190.8" height="181.9" fill="none" stroke="#888" stroke-width="1"/>
<path d="M375.06 260.89A92.3 88.25 0 0 1 391.14 260.89L386.14 315.57A34.89 33.36 0 0 0 380.06 315.57Z" fill="#FFEB9B" stroke="#FFEB9B" stroke-width="0.35"/>
<path d="M391.14 260.89A92.3 88.25 0 0 1 406.99 263.56L392.13 316.58A34.89 33.36 0 0 0 386.14 315.57Z" fill="#FED673" stroke="#FED673" stroke-width="0.35"/>
<path d="M406.99 263.56A92.3 88.25 0 0 1 422.11 268.82L397.84 318.57A34.89 33.36 0 0 0 392.13 316.58Z" fill="#FEDF83" stroke="#FEDF83" stroke-width="0.35"/>
<path d="M422.11 268.82A92.3 88.25 0 0 1 436.04 276.51L403.11 321.47A34.89 33.36 0 0 0 397.84 318.57Z" fill="#FEDE80" stroke="#FEDE80" stroke-width="0.35"/>
<path d="M436.04 276.51A92.3 88.25 0 0 1 448.37 286.4L407.77 325.21A34.89 33.36 0 0 0 403.11 321.47Z" fill="#FED06C" stroke="#FED06C" stroke-width="0.35"/>
<path d="M448.37 286.4A92.3 88.25 0 0 1 458.71 298.18L411.68 329.67A34.89 33.36 0 0 0 407.77 325.21Z" fill="#FEC05B" stroke="#FEC05B" stroke-width="0.35"/>
<path d="M458.71 298.18A92.3 88.25 0 0 1 466.75 311.5L414.72 334.7A34.89 33.36 0 0 0 411.68 329.67Z" fill="#FD8D3C" stroke="#FD8D3C" stroke-width="0.35"/>
<path d="M466.75 311.5A92.3 88.25 0 0 1 472.25 325.96L416.8 340.17A34.89 33.36 0 0 0 414.72 334.7Z" fill="#FD7435" stroke="#FD7435" stroke-width="0.35"/>
<path d="M472.25 325.96A92.3 88.25 0 0 1 475.05 341.11L417.86 345.89A34.89 33.36 0 0 0 416.8 340.17Z" fill="#FFFEC8" stroke="#FFFEC8" stroke-width="0.35"/>
<path d="M475.05 341.11A92.3 88.25 0 0 1 475.05 356.49L417.86 351.71A34.89 33.36 0 0 0 417.86 345.89Z" fill="#FEAB49" stroke="#FEAB49" stroke-width="0.35"/>
<path d="M475.05 356.49A92.3 88.25 0 0 1 472.25 371.64L416.8 357.43A34.89 33.36 0 0 0 417.86 351.71Z" fill="#FEAB49" stroke="#FEAB49" stroke-width="0.35"/>
<path d="M472.25 371.64A92.3 88.25 0 0 1 466.75 386.1L414.72 362.9A34.89 33.36 0 0 0 416.8 357.43Z" fill="#FED36F" stroke="#FED36F" stroke-width="0.35"/>
<path d="M466.75 386.1A92.3 88.25 0 0 1 458.71 399.42L411.68 367.93A34.89 33.36 0 0 0 414.72 362.9Z" fill="#FEAB49" stroke="#FEAB49" stroke-width="0.35"/>
<path d="M458.71 399.42A92.3 88.25 0 0 1 448.37 411.2L407.77 372.39A34.89 33.36 0 0 0 411.68 367.93Z" fill="#FFFCC5" stroke="#FFFCC5" stroke-width="0.35"/>
<path d="M448.37 411.2A92.3 88.25 0 0 1 436.04 421.09L403.11 376.13A34.89 33.36 0 0 0 407.77 372.39Z" fill="#FED976" stroke="#FED976" stroke-width="0.35"/>
<path d="M436.04 421.09A92.3 88.25 0 0 1 422.11 428.78L397.84 379.03A34.89 33.36 0 0 0 403.11 376.13Z" fill="#FEDE80" stroke="#FEDE80" stroke-width="0.35"/>
<path d="M422.11 428.78A92.3 88.25 0 0 1 406.99 434.04L392.13 381.02A34.89 33.36 0 0 0 397.84 379.03Z" fill="#FED673" stroke="#FED673" stroke-width="0.35"/>
<path d="M406.99 434.04A92.3 88.25 0 0 1 391.14 436.71L386.14 382.03A34.89 33.36 0 0 0 392.13 381.02Z" fill="#FEDB79" stroke="#FEDB79" stroke-width="0.35"/>
<path d="M391.14 436.71A92.3 88.25 0 0 1 375.06 436.71L380.06 382.03A34.89 33.36 0 0 0 386.14 382.03Z" fill="#FED36F" stroke="#FED36F" stroke-width="0.35"/>
<path d="M375.06 436.71A92.3 88.25 0 0 1 359.21 434.04L374.07 381.02A34.89 33.36 0 0 0 380.06 382.03Z" fill="#FED673" stroke="#FED673" stroke-width="0.35"/>
<path d="M359.21 434.04A92.3 88.25 0 0 1 344.09 428.78L368.36 379.03A34.89 33.36 0 0 0 374.07 381.02Z" fill="#FECD69" stroke="#FECD69" stroke-width="0.35"/>
<path d="M344.09 428.78A92.3 88.25 0 0 1 330.16 421.09L363.09 376.13A34.89 33.36 0 0 0 368.36 379.03Z" fill="#FEB24C" stroke="#FEB24C" stroke-width="0.35"/>
<path d="M330.16 421.09A92.3 88.25 0 0 1 317.83 411.2L358.43 372.39A34.89 33.36 0 0 0 363.09 376.13Z" fill="#FD8D3C" stroke="#FD8D3C" stroke-width="0.35"/>
<path d="M317.83 411.2A92.3 88.25 0 0 1 307.49 399.42L354.52 367.93A34.89 33.36 0 0 0 358.43 372.39Z" fill="#D7121F" stroke="#D7121F" stroke-width="0.35"/>
<path d="M307.49 399.42A92.3 88.25 0 0 1 299.45 386.1L351.48 362.9A34.89 33.36 0 0 0 354.52 367.93Z" fill="#E41C1D" stroke="#E41C1D" stroke-width="0.35"/>
<path d="M299.45 386.1A92.3 88.25 0 0 1 293.95 371.64L349.4 357.43A34.89 33.36 0 0 0 351.48 362.9Z" fill="#E51E1D" stroke="#E51E1D" stroke-width="0.35"/>
<path d="M293.95 371.64A92.3 88.25 0 0 1 291.15 356.49L348.34 351.71A34.89 33.36 0 0 0 349.4 357.43Z" fill="#BC1A2C" stroke="#BC1A2C" stroke-width="0.35"/>
<path d="M291.15 356.49A92.3 88.25 0 0 1 291.15 341.11L348.34 345.89A34.89 33.36 0 0 0 348.34 351.71Z" fill="#E51E1D" stroke="#E51E1D" stroke-width="0.35"/>
<path d="M291.15 341.11A92.3 88.25 0 0 1 293.95 325.96L349.4 340.17A34.89 33.36 0 0 0 348.34 345.89Z" fill="#F13724" stroke="#F13724" stroke-width="0.35"/>
<path d="M293.95 325.96A92.3 88.25 0 0 1 299.45 311.5L351.48 334.7A34.89 33.36 0 0 0 349.4 340.17Z" fill="#FFFEC8" stroke="#FFFEC8" stroke-width="0.35"/>
<path d="M299.45 311.5A92.3 88.25 0 0 1 307.49 298.18L354.52 329.67A34.89 33.36 0 0 0 351.48 334.7Z" fill="#BC1A2C" stroke="#BC1A2C" stroke-width="0.35"/>
<path d="M307.49 298.18A92.3 88.25 0 0 1 317.83 286.4L358.43 325.21A34.89 33.36 0 0 0 354.52 329.67Z" fill="#FD6F33" stroke="#FD6F33" stroke-width="0.35"/>
<path d="M317.83 286.4A92.3 88.25 0 0 1 330.16 276.51L363.09 321.47A34.89 33.36 0 0 0 358.43 325.21Z" fill="#FD8D3C" stroke="#FD8D3C" stroke-width="0.35"/>
<path d="M330.16 276.51A92.3 88.25 0 0 1 344.09 268.82L368.36 318.57A34.89 33.36 0 0 0 363.09 321.47Z" fill="#FEB24C" stroke="#FEB24C" stroke-width="0.35"/>
<path d="M344.09 268.82A92.3 88.25 0 0 1 359.21 263.56L374.07 316.58A34.89 33.36 0 0 0 368.36 318.57Z" fill="#FEC05B" stroke="#FEC05B" stroke-width="0.35"/>
<path d="M359.21 263.56A92.3 88.25 0 0 1 375.06 260.89L380.06 315.57A34.89 33.36 0 0 0 374.07 316.58Z" fill="#FEDB79" stroke="#FEDB79" stroke-width="0.35"/>
<g stroke="#000" stroke-opacity="0.45" stroke-width="0.95" fill="none">
<path d="M383.1 315.44V261.15"/>
<path d="M380.9 264.15L383.1 261.45L385.3 264.15"/>
<path d="M383.1 382.16V436.45"/>
<path d="M380.9 433.45L383.1 436.15L385.3 433.45"/>
<path d="M417.99 348.8H474.8"/>
<path d="M471.8 346.6L474.5 348.8L471.8 351"/>
<path d="M348.21 348.8H291.4"/>
<path d="M294.4 346.6L291.7 348.8L294.4 351"/>
</g>
<ellipse cx="383.1" cy="348.8" rx="34.89" ry="33.36" fill="#fff"/>
<text x="387.4" y="267.8" class="dl">N</text>
<text x="468.8" y="345.4" class="dl">E</text>
<text x="388" y="435.4" class="dl">S</text>
<text x="293.8" y="345.4" class="dl">W</text>
<defs><linearGradient id="g348" x1="0" y1="0" x2="0" y2="1"><stop offset="0" stop-color="#800026"/><stop offset="0.05" stop-color="#980026"/><stop offset="0.1" stop-color="#B10026"/><stop offset="0.15" stop-color="#C50524"/><stop offset="0.2" stop-color="#D41020"/><stop offset="0.25" stop-color="#E31A1C"/><stop offset="0.3" stop-color="#ED2F22"/><stop offset="0.35" stop-color="#F74427"/><stop offset="0.4" stop-color="#FC5B2E"/><stop offset="0.45" stop-color="#FD7435"/><stop offset="0.5" stop-color="#FD8D3C"/><stop offset="0.55" stop-color="#FD9C42"/><stop offset="0.6" stop-color="#FEAB49"/><stop offset="0.65" stop-color="#FEBA54"/><stop offset="0.7" stop-color="#FEC965"/><stop offset="0.75" stop-color="#FED976"/><stop offset="0.8" stop-color="#FEE187"/><stop offset="0.85" stop-color="#FFE998"/><stop offset="0.9" stop-color="#FFF1A9"/><stop offset="0.95" stop-color="#FFF8BA"/><stop offset="1" stop-color="#FFFFCC"/></linearGradient></defs>
<rect x="481.4" y="285" width="7.9" height="127.3" fill="url(#g348)" stroke="#7a5a3a" stroke-width="0.6"/>
<path d="M489.3 412.3H491.1" stroke="#555" stroke-width="0.6"/>
<text x="494.6" y="414.4" class="ct">0</text>
<path d="M489.3 402.32H491.1" stroke="#555" stroke-width="0.6"/>
<text x="494.6" y="404.42" class="ct">0.5</text>
<path d="M489.3 392.35H491.1" stroke="#555" stroke-width="0.6"/>
<text x="494.6" y="394.45" class="ct">1</text>
<path d="M489.3 382.37H491.1" stroke="#555" stroke-width="0.6"/>
<text x="494.6" y="384.47" class="ct">1.5</text>
<path d="M489.3 372.39H491.1" stroke="#555" stroke-width="0.6"/>
<text x="494.6" y="374.49" class="ct">2</text>
<path d="M489.3 362.42H491.1" stroke="#555" stroke-width="0.6"/>
<text x="494.6" y="364.52" class="ct">2.5</text>
<path d="M489.3 352.44H491.1" stroke="#555" stroke-width="0.6"/>
<text x="494.6" y="354.54" class="ct">3</text>
<path d="M489.3 342.46H491.1" stroke="#555" stroke-width="0.6"/>
<text x="494.6" y="344.56" class="ct">3.5</text>
<path d="M489.3 332.49H491.1" stroke="#555" stroke-width="0.6"/>
<text x="494.6" y="334.59" class="ct">4</text>
<path d="M489.3 322.51H491.1" stroke="#555" stroke-width="0.6"/>
<text x="494.6" y="324.61" class="ct">4.5</text>
<path d="M489.3 312.54H491.1" stroke="#555" stroke-width="0.6"/>
<text x="494.6" y="314.64" class="ct">5</text>
<path d="M489.3 302.56H491.1" stroke="#555" stroke-width="0.6"/>
<text x="494.6" y="304.66" class="ct">5.5</text>
<path d="M489.3 292.58H491.1" stroke="#555" stroke-width="0.6"/>
<text x="494.6" y="294.68" class="ct">6</text>
<text x="494.2" y="265.1" class="cl">contribution</text>
<text x="494.2" y="274.0" class="cl">(%)</text>
<text x="494.2" y="428.6" class="cl">PM<tspan font-size="3.6" dy="1.2">10</tspan></text>
<text x="46.9" y="218.4" class="cap" textLength="190.4" lengthAdjust="spacingAndGlyphs">(b1) Air mass transportation at 500 MAGL</text>
<text x="46.9" y="458.0" class="cap" textLength="193.6" lengthAdjust="spacingAndGlyphs">(c1) Air mass transportation at 1000 MAGL</text>
<text x="283.6" y="224.2" class="cap2" textLength="256.8" lengthAdjust="spacingAndGlyphs">(b2) Air mass contribution to PM<tspan font-size="6.3">10</tspan> extreme concentration</text>
<text x="283.6" y="236.9" class="cap2" textLength="91.2" lengthAdjust="spacingAndGlyphs">events at 500 MAGL</text>
<text x="283.3" y="466.4" class="cap2" textLength="257" lengthAdjust="spacingAndGlyphs">(c2) Air mass contribution to PM<tspan font-size="6.3">10</tspan> extreme concentration</text>
<text x="283.3" y="479.6" class="cap2" textLength="93.3" lengthAdjust="spacingAndGlyphs">events at 1000MAGL</text>
</svg></body></html>
